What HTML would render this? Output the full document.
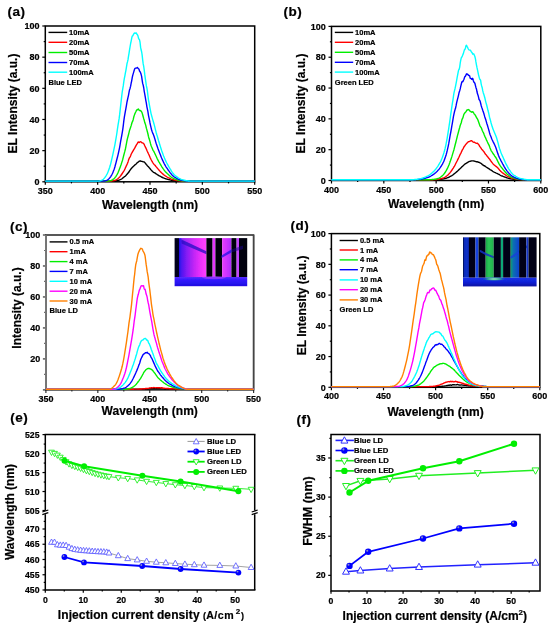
<!DOCTYPE html>
<html><head><meta charset="utf-8"><style>html,body{margin:0;padding:0;background:#fff;width:550px;height:625px;overflow:hidden}svg{display:block;will-change:transform}text{font-family:'Liberation Sans',sans-serif;font-weight:bold;stroke:#000;stroke-width:0.2px}</style></head>
<body>
<svg width="550" height="625" viewBox="0 0 550 625">
<rect width="550" height="625" fill="#fff"/>
<text x="7.60" y="15.70" font-size="13.5" text-anchor="start" fill="#000"  letter-spacing="0.5">(a)</text>
<line x1="45.30" y1="181.80" x2="45.30" y2="184.80" stroke="#000" stroke-width="1.2" />
<text x="45.30" y="193.80" font-size="9" text-anchor="middle" fill="#000"  >350</text>
<line x1="97.65" y1="181.80" x2="97.65" y2="184.80" stroke="#000" stroke-width="1.2" />
<text x="97.65" y="193.80" font-size="9" text-anchor="middle" fill="#000"  >400</text>
<line x1="150.00" y1="181.80" x2="150.00" y2="184.80" stroke="#000" stroke-width="1.2" />
<text x="150.00" y="193.80" font-size="9" text-anchor="middle" fill="#000"  >450</text>
<line x1="202.35" y1="181.80" x2="202.35" y2="184.80" stroke="#000" stroke-width="1.2" />
<text x="202.35" y="193.80" font-size="9" text-anchor="middle" fill="#000"  >500</text>
<line x1="254.70" y1="181.80" x2="254.70" y2="184.80" stroke="#000" stroke-width="1.2" />
<text x="254.70" y="193.80" font-size="9" text-anchor="middle" fill="#000"  >550</text>
<line x1="71.47" y1="181.80" x2="71.47" y2="183.40" stroke="#000" stroke-width="1.2" />
<line x1="123.82" y1="181.80" x2="123.82" y2="183.40" stroke="#000" stroke-width="1.2" />
<line x1="176.18" y1="181.80" x2="176.18" y2="183.40" stroke="#000" stroke-width="1.2" />
<line x1="228.52" y1="181.80" x2="228.52" y2="183.40" stroke="#000" stroke-width="1.2" />
<line x1="42.30" y1="181.80" x2="45.30" y2="181.80" stroke="#000" stroke-width="1.2" />
<text x="39.60" y="185.00" font-size="9" text-anchor="end" fill="#000"  >0</text>
<line x1="42.30" y1="150.64" x2="45.30" y2="150.64" stroke="#000" stroke-width="1.2" />
<text x="39.60" y="153.84" font-size="9" text-anchor="end" fill="#000"  >20</text>
<line x1="42.30" y1="119.48" x2="45.30" y2="119.48" stroke="#000" stroke-width="1.2" />
<text x="39.60" y="122.68" font-size="9" text-anchor="end" fill="#000"  >40</text>
<line x1="42.30" y1="88.32" x2="45.30" y2="88.32" stroke="#000" stroke-width="1.2" />
<text x="39.60" y="91.52" font-size="9" text-anchor="end" fill="#000"  >60</text>
<line x1="42.30" y1="57.16" x2="45.30" y2="57.16" stroke="#000" stroke-width="1.2" />
<text x="39.60" y="60.36" font-size="9" text-anchor="end" fill="#000"  >80</text>
<line x1="42.30" y1="26.00" x2="45.30" y2="26.00" stroke="#000" stroke-width="1.2" />
<text x="39.60" y="29.20" font-size="9" text-anchor="end" fill="#000"  >100</text>
<line x1="43.70" y1="166.22" x2="45.30" y2="166.22" stroke="#000" stroke-width="1.2" />
<line x1="43.70" y1="135.06" x2="45.30" y2="135.06" stroke="#000" stroke-width="1.2" />
<line x1="43.70" y1="103.90" x2="45.30" y2="103.90" stroke="#000" stroke-width="1.2" />
<line x1="43.70" y1="72.74" x2="45.30" y2="72.74" stroke="#000" stroke-width="1.2" />
<line x1="43.70" y1="41.58" x2="45.30" y2="41.58" stroke="#000" stroke-width="1.2" />
<text x="150.00" y="208.60" font-size="12" text-anchor="middle" fill="#000"  >Wavelength (nm)</text>
<text x="17.30" y="103.50" font-size="12" text-anchor="middle" fill="#000"  transform="rotate(-90 17.30 103.50)" >EL Intensity (a.u.)</text>
<rect x="45.30" y="26.00" width="209.40" height="155.80" fill="none" stroke="#000" stroke-width="1.5"/>
<polyline points="45.30,181.10 111.78,181.10 112.31,181.10 112.83,181.09 113.35,181.07 113.88,181.04 114.40,181.01 114.93,180.97 115.45,180.93 115.97,180.86 116.50,180.77 117.02,180.66 117.54,180.54 118.07,180.41 118.59,180.26 119.11,180.09 119.64,179.88 120.16,179.65 120.68,179.41 121.21,179.14 121.73,178.82 122.25,178.45 122.78,178.05 123.30,177.65 123.82,177.24 124.35,176.82 124.87,176.39 125.40,175.93 125.92,175.44 126.44,174.85 126.97,174.26 127.49,173.67 128.01,173.09 128.54,172.49 129.06,171.75 129.58,170.88 130.11,170.09 130.63,169.38 131.15,168.71 131.68,168.07 132.20,167.62 132.72,167.12 133.25,166.53 133.77,166.07 134.29,165.51 134.82,165.01 135.34,164.58 135.87,164.19 136.39,163.59 136.91,163.01 137.44,162.66 137.96,162.15 138.48,161.80 139.01,161.39 139.53,161.09 140.05,160.97 140.58,160.99 141.10,161.25 141.62,161.33 142.15,161.36 142.67,161.54 143.19,161.71 143.72,161.85 144.24,161.99 144.76,162.44 145.29,163.19 145.81,163.82 146.34,164.52 146.86,165.09 147.38,165.70 147.91,166.27 148.43,166.78 148.95,167.40 149.48,168.03 150.00,168.58 150.52,169.20 151.05,169.86 151.57,170.46 152.09,171.04 152.62,171.51 153.14,171.96 153.66,172.33 154.19,172.59 154.71,172.86 155.23,173.18 155.76,173.57 156.28,173.93 156.81,174.29 157.33,174.65 157.85,174.96 158.38,175.28 158.90,175.58 159.42,175.88 159.95,176.17 160.47,176.46 160.99,176.74 161.52,177.00 162.04,177.26 162.56,177.50 163.09,177.75 163.61,177.98 164.13,178.17 164.66,178.38 165.18,178.56 165.70,178.74 166.23,178.91 166.75,179.07 167.28,179.22 167.80,179.37 168.32,179.52 168.85,179.66 169.37,179.80 169.89,179.93 170.42,180.06 170.94,180.16 171.46,180.26 171.99,180.34 172.51,180.41 173.03,180.48 173.56,180.54 174.08,180.61 174.60,180.66 175.13,180.72 175.65,180.77 176.18,180.81 176.70,180.85 177.22,180.89 177.75,180.92 178.27,180.95 178.79,180.97 179.32,180.99 179.84,181.01 180.36,181.03 180.89,181.05 181.41,181.06 181.93,181.07 182.46,181.09 182.98,181.09 183.50,181.10 184.03,181.10 254.70,181.10" fill="none" stroke="#000000" stroke-width="1.4" stroke-linejoin="round" />
<polyline points="45.30,181.10 109.69,181.10 110.21,181.09 110.74,181.07 111.26,181.03 111.78,180.98 112.31,180.92 112.83,180.86 113.35,180.78 113.88,180.66 114.40,180.50 114.93,180.30 115.45,180.07 115.97,179.83 116.50,179.57 117.02,179.27 117.54,178.92 118.07,178.51 118.59,178.07 119.11,177.59 119.64,177.05 120.16,176.42 120.68,175.73 121.21,174.98 121.73,174.24 122.25,173.48 122.78,172.68 123.30,171.87 123.82,171.02 124.35,170.08 124.87,169.08 125.40,167.91 125.92,166.70 126.44,165.65 126.97,164.52 127.49,163.35 128.01,161.92 128.54,160.10 129.06,158.65 129.58,157.69 130.11,156.87 130.63,155.70 131.15,154.29 131.68,153.23 132.20,152.39 132.72,151.35 133.25,150.51 133.77,149.73 134.29,148.77 134.82,147.91 135.34,146.95 135.87,145.94 136.39,144.98 136.91,144.14 137.44,143.27 137.96,142.18 138.48,142.05 139.01,142.53 139.53,142.30 140.05,141.87 140.58,141.80 141.10,141.88 141.62,142.38 142.15,142.90 142.67,142.87 143.19,143.26 143.72,143.74 144.24,144.38 144.76,145.76 145.29,146.83 145.81,147.92 146.34,148.99 146.86,150.30 147.38,151.51 147.91,152.58 148.43,153.73 148.95,154.77 149.48,155.96 150.00,157.24 150.52,158.40 151.05,159.50 151.57,160.47 152.09,161.47 152.62,162.36 153.14,163.13 153.66,163.86 154.19,164.48 154.71,164.98 155.23,165.49 155.76,166.22 156.28,166.89 156.81,167.48 157.33,168.18 157.85,168.83 158.38,169.37 158.90,169.93 159.42,170.56 159.95,171.13 160.47,171.64 160.99,172.17 161.52,172.72 162.04,173.21 162.56,173.68 163.09,174.16 163.61,174.59 164.13,174.99 164.66,175.37 165.18,175.75 165.70,176.10 166.23,176.42 166.75,176.74 167.28,177.05 167.80,177.33 168.32,177.62 168.85,177.90 169.37,178.17 169.89,178.44 170.42,178.69 170.94,178.93 171.46,179.14 171.99,179.34 172.51,179.50 173.03,179.64 173.56,179.78 174.08,179.90 174.60,180.03 175.13,180.14 175.65,180.25 176.18,180.35 176.70,180.44 177.22,180.53 177.75,180.61 178.27,180.67 178.79,180.73 179.32,180.78 179.84,180.83 180.36,180.87 180.89,180.90 181.41,180.94 181.93,180.98 182.46,181.01 182.98,181.03 183.50,181.06 184.03,181.08 184.55,181.09 185.07,181.10 185.60,181.10 254.70,181.10" fill="none" stroke="#ff0000" stroke-width="1.4" stroke-linejoin="round" />
<polyline points="45.30,181.10 107.07,181.10 107.60,181.10 108.12,181.08 108.64,181.03 109.17,180.96 109.69,180.86 110.21,180.75 110.74,180.63 111.26,180.47 111.78,180.24 112.31,179.93 112.83,179.57 113.35,179.16 113.88,178.71 114.40,178.24 114.93,177.68 115.45,177.03 115.97,176.29 116.50,175.47 117.02,174.61 117.54,173.63 118.07,172.47 118.59,171.22 119.11,169.90 119.64,168.54 120.16,167.14 120.68,165.73 121.21,164.23 121.73,162.63 122.25,161.02 122.78,159.19 123.30,157.09 123.82,154.99 124.35,153.07 124.87,151.16 125.40,149.00 125.92,146.46 126.44,143.58 126.97,140.74 127.49,138.37 128.01,136.45 128.54,134.50 129.06,132.41 129.58,130.16 130.11,128.65 130.63,127.18 131.15,125.63 131.68,123.82 132.20,122.06 132.72,121.18 133.25,119.42 133.77,117.06 134.29,115.39 134.82,113.90 135.34,112.77 135.87,111.79 136.39,110.51 136.91,109.82 137.44,109.88 137.96,109.09 138.48,109.06 139.01,110.10 139.53,110.59 140.05,110.61 140.58,110.56 141.10,111.19 141.62,111.84 142.15,113.09 142.67,114.74 143.19,116.72 143.72,118.69 144.24,120.32 144.76,122.58 145.29,123.89 145.81,125.62 146.34,128.14 146.86,129.83 147.38,131.71 147.91,133.76 148.43,136.24 148.95,138.30 149.48,139.75 150.00,141.65 150.52,143.65 151.05,145.44 151.57,146.78 152.09,147.94 152.62,149.33 153.14,150.37 153.66,151.19 154.19,152.19 154.71,153.27 155.23,154.32 155.76,155.46 156.28,156.57 156.81,157.73 157.33,158.86 157.85,159.84 158.38,160.82 158.90,161.84 159.42,162.69 159.95,163.56 160.47,164.49 160.99,165.34 161.52,166.25 162.04,167.11 162.56,167.89 163.09,168.69 163.61,169.42 164.13,170.11 164.66,170.79 165.18,171.41 165.70,171.98 166.23,172.54 166.75,173.07 167.28,173.61 167.80,174.10 168.32,174.57 168.85,175.03 169.37,175.51 169.89,175.97 170.42,176.42 170.94,176.84 171.46,177.23 171.99,177.59 172.51,177.92 173.03,178.20 173.56,178.44 174.08,178.67 174.60,178.88 175.13,179.09 175.65,179.28 176.18,179.47 176.70,179.65 177.22,179.82 177.75,179.97 178.27,180.11 178.79,180.24 179.32,180.35 179.84,180.45 180.36,180.53 180.89,180.60 181.41,180.67 181.93,180.74 182.46,180.80 182.98,180.86 183.50,180.91 184.03,180.96 184.55,181.00 185.07,181.04 185.60,181.07 186.12,181.09 186.64,181.10 187.17,181.10 254.70,181.10" fill="none" stroke="#00ee00" stroke-width="1.4" stroke-linejoin="round" />
<polyline points="45.30,181.10 102.88,181.10 103.41,181.10 103.93,181.07 104.46,181.00 104.98,180.89 105.50,180.76 106.03,180.60 106.55,180.43 107.07,180.23 107.60,179.94 108.12,179.55 108.64,179.06 109.17,178.51 109.69,177.90 110.21,177.24 110.74,176.56 111.26,175.74 111.78,174.80 112.31,173.76 112.83,172.61 113.35,171.35 113.88,169.98 114.40,168.45 114.93,166.70 115.45,164.80 115.97,162.84 116.50,160.79 117.02,158.76 117.54,156.72 118.07,154.60 118.59,152.26 119.11,149.91 119.64,147.29 120.16,144.26 120.68,141.18 121.21,138.26 121.73,135.53 122.25,132.55 122.78,129.37 123.30,125.42 123.82,120.83 124.35,117.04 124.87,114.03 125.40,111.05 125.92,108.36 126.44,105.29 126.97,102.19 127.49,99.74 128.01,97.39 128.54,95.05 129.06,92.18 129.58,89.64 130.11,88.20 130.63,86.15 131.15,83.25 131.68,80.84 132.20,77.77 132.72,75.36 133.25,73.58 133.77,71.85 134.29,70.05 134.82,68.62 135.34,68.15 135.87,68.10 136.39,68.05 136.91,67.79 137.44,67.44 137.96,68.16 138.48,68.66 139.01,69.27 139.53,71.08 140.05,71.68 140.58,72.71 141.10,74.29 141.62,76.46 142.15,80.13 142.67,83.38 143.19,85.12 143.72,87.76 144.24,91.30 144.76,94.04 145.29,97.12 145.81,100.31 146.34,103.09 146.86,106.53 147.38,109.13 147.91,111.67 148.43,115.05 148.95,117.59 149.48,120.15 150.00,122.99 150.52,125.35 151.05,127.58 151.57,129.71 152.09,131.41 152.62,132.82 153.14,133.89 153.66,135.19 154.19,136.80 154.71,138.42 155.23,140.22 155.76,142.12 156.28,143.82 156.81,145.19 157.33,146.68 157.85,148.25 158.38,149.68 158.90,151.08 159.42,152.41 159.95,153.76 160.47,155.11 160.99,156.46 161.52,157.78 162.04,158.99 162.56,160.15 163.09,161.29 163.61,162.41 164.13,163.47 164.66,164.43 165.18,165.33 165.70,166.28 166.23,167.13 166.75,167.92 167.28,168.70 167.80,169.49 168.32,170.26 168.85,170.94 169.37,171.65 169.89,172.36 170.42,173.03 170.94,173.68 171.46,174.31 171.99,174.89 172.51,175.42 173.03,175.91 173.56,176.35 174.08,176.73 174.60,177.07 175.13,177.39 175.65,177.71 176.18,178.02 176.70,178.31 177.22,178.59 177.75,178.84 178.27,179.09 178.79,179.31 179.32,179.52 179.84,179.71 180.36,179.88 180.89,180.03 181.41,180.16 181.93,180.27 182.46,180.37 182.98,180.47 183.50,180.57 184.03,180.66 184.55,180.74 185.07,180.82 185.60,180.89 186.12,180.96 186.64,181.01 187.17,181.05 187.69,181.08 188.22,181.10 188.74,181.10 254.70,181.10" fill="none" stroke="#0000ff" stroke-width="1.4" stroke-linejoin="round" />
<polyline points="45.30,181.10 98.17,181.10 98.70,181.08 99.22,181.01 99.74,180.90 100.27,180.76 100.79,180.59 101.31,180.40 101.84,180.19 102.36,179.96 102.88,179.62 103.41,179.18 103.93,178.63 104.46,178.01 104.98,177.31 105.50,176.55 106.03,175.77 106.55,174.94 107.07,173.96 107.60,172.85 108.12,171.61 108.64,170.26 109.17,168.80 109.69,167.27 110.21,165.56 110.74,163.60 111.26,161.48 111.78,159.19 112.31,156.84 112.83,154.57 113.35,152.19 113.88,149.69 114.40,147.19 114.93,144.54 115.45,141.57 115.97,138.59 116.50,135.50 117.02,132.10 117.54,128.46 118.07,124.95 118.59,121.88 119.11,118.63 119.64,114.70 120.16,109.96 120.68,105.22 121.21,100.67 121.73,96.08 122.25,91.78 122.78,88.68 123.30,85.65 123.82,81.65 124.35,78.48 124.87,75.85 125.40,72.87 125.92,70.30 126.44,67.24 126.97,63.81 127.49,61.93 128.01,59.65 128.54,56.03 129.06,53.07 129.58,49.61 130.11,46.50 130.63,43.50 131.15,41.08 131.68,38.39 132.20,36.07 132.72,35.83 133.25,34.91 133.77,33.99 134.29,33.16 134.82,33.03 135.34,33.26 135.87,32.98 136.39,32.90 136.91,34.15 137.44,34.66 137.96,35.85 138.48,38.10 139.01,39.33 139.53,39.84 140.05,42.23 140.58,47.17 141.10,49.78 141.62,51.75 142.15,55.12 142.67,59.91 143.19,63.88 143.72,66.48 144.24,70.08 144.76,74.63 145.29,78.34 145.81,81.88 146.34,85.66 146.86,87.98 147.38,90.96 147.91,95.50 148.43,99.54 148.95,102.40 149.48,105.27 150.00,108.18 150.52,110.95 151.05,113.57 151.57,115.49 152.09,117.39 152.62,119.36 153.14,121.04 153.66,122.73 154.19,124.64 154.71,126.69 155.23,128.84 155.76,130.89 156.28,133.00 156.81,134.80 157.33,136.36 157.85,138.26 158.38,140.18 158.90,141.82 159.42,143.46 159.95,145.19 160.47,146.87 160.99,148.54 161.52,150.19 162.04,151.67 162.56,153.08 163.09,154.62 163.61,156.05 164.13,157.29 164.66,158.52 165.18,159.73 165.70,160.87 166.23,161.99 166.75,163.03 167.28,164.00 167.80,164.92 168.32,165.84 168.85,166.78 169.37,167.67 169.89,168.50 170.42,169.34 170.94,170.21 171.46,171.05 171.99,171.85 172.51,172.59 173.03,173.28 173.56,173.93 174.08,174.51 174.60,175.03 175.13,175.48 175.65,175.88 176.18,176.29 176.70,176.67 177.22,177.05 177.75,177.41 178.27,177.75 178.79,178.07 179.32,178.38 179.84,178.66 180.36,178.93 180.89,179.17 181.41,179.39 181.93,179.59 182.46,179.77 182.98,179.92 183.50,180.05 184.03,180.17 184.55,180.29 185.07,180.41 185.60,180.52 186.12,180.63 186.64,180.73 187.17,180.81 187.69,180.89 188.22,180.96 188.74,181.02 189.26,181.06 189.79,181.09 190.31,181.10 190.83,181.10 254.70,181.10" fill="none" stroke="#00ffff" stroke-width="1.4" stroke-linejoin="round" />
<line x1="48.50" y1="32.40" x2="67.20" y2="32.40" stroke="#000" stroke-width="1.4" />
<text x="69.10" y="34.90" font-size="7.5" text-anchor="start" fill="#000"  >10mA</text>
<line x1="48.50" y1="42.30" x2="67.20" y2="42.30" stroke="#f00" stroke-width="1.4" />
<text x="69.10" y="44.80" font-size="7.5" text-anchor="start" fill="#000"  >20mA</text>
<line x1="48.50" y1="52.50" x2="67.20" y2="52.50" stroke="#00ee00" stroke-width="1.4" />
<text x="69.10" y="55.00" font-size="7.5" text-anchor="start" fill="#000"  >50mA</text>
<line x1="48.50" y1="62.50" x2="67.20" y2="62.50" stroke="#00f" stroke-width="1.4" />
<text x="69.10" y="65.00" font-size="7.5" text-anchor="start" fill="#000"  >70mA</text>
<line x1="48.50" y1="72.20" x2="67.20" y2="72.20" stroke="#0ff" stroke-width="1.4" />
<text x="69.10" y="74.70" font-size="7.5" text-anchor="start" fill="#000"  >100mA</text>
<text x="48.50" y="84.50" font-size="7.5" text-anchor="start" fill="#000"  >Blue LED</text>
<text x="283.40" y="15.80" font-size="13.5" text-anchor="start" fill="#000"  letter-spacing="0.5">(b)</text>
<line x1="331.50" y1="180.50" x2="331.50" y2="183.50" stroke="#000" stroke-width="1.2" />
<text x="331.50" y="192.50" font-size="9" text-anchor="middle" fill="#000"  >400</text>
<line x1="383.82" y1="180.50" x2="383.82" y2="183.50" stroke="#000" stroke-width="1.2" />
<text x="383.82" y="192.50" font-size="9" text-anchor="middle" fill="#000"  >450</text>
<line x1="436.15" y1="180.50" x2="436.15" y2="183.50" stroke="#000" stroke-width="1.2" />
<text x="436.15" y="192.50" font-size="9" text-anchor="middle" fill="#000"  >500</text>
<line x1="488.47" y1="180.50" x2="488.47" y2="183.50" stroke="#000" stroke-width="1.2" />
<text x="488.47" y="192.50" font-size="9" text-anchor="middle" fill="#000"  >550</text>
<line x1="540.80" y1="180.50" x2="540.80" y2="183.50" stroke="#000" stroke-width="1.2" />
<text x="540.80" y="192.50" font-size="9" text-anchor="middle" fill="#000"  >600</text>
<line x1="357.66" y1="180.50" x2="357.66" y2="182.10" stroke="#000" stroke-width="1.2" />
<line x1="409.99" y1="180.50" x2="409.99" y2="182.10" stroke="#000" stroke-width="1.2" />
<line x1="462.31" y1="180.50" x2="462.31" y2="182.10" stroke="#000" stroke-width="1.2" />
<line x1="514.64" y1="180.50" x2="514.64" y2="182.10" stroke="#000" stroke-width="1.2" />
<line x1="328.50" y1="180.50" x2="331.50" y2="180.50" stroke="#000" stroke-width="1.2" />
<text x="325.80" y="183.70" font-size="9" text-anchor="end" fill="#000"  >0</text>
<line x1="328.50" y1="149.68" x2="331.50" y2="149.68" stroke="#000" stroke-width="1.2" />
<text x="325.80" y="152.88" font-size="9" text-anchor="end" fill="#000"  >20</text>
<line x1="328.50" y1="118.86" x2="331.50" y2="118.86" stroke="#000" stroke-width="1.2" />
<text x="325.80" y="122.06" font-size="9" text-anchor="end" fill="#000"  >40</text>
<line x1="328.50" y1="88.04" x2="331.50" y2="88.04" stroke="#000" stroke-width="1.2" />
<text x="325.80" y="91.24" font-size="9" text-anchor="end" fill="#000"  >60</text>
<line x1="328.50" y1="57.22" x2="331.50" y2="57.22" stroke="#000" stroke-width="1.2" />
<text x="325.80" y="60.42" font-size="9" text-anchor="end" fill="#000"  >80</text>
<line x1="328.50" y1="26.40" x2="331.50" y2="26.40" stroke="#000" stroke-width="1.2" />
<text x="325.80" y="29.60" font-size="9" text-anchor="end" fill="#000"  >100</text>
<line x1="329.90" y1="165.09" x2="331.50" y2="165.09" stroke="#000" stroke-width="1.2" />
<line x1="329.90" y1="134.27" x2="331.50" y2="134.27" stroke="#000" stroke-width="1.2" />
<line x1="329.90" y1="103.45" x2="331.50" y2="103.45" stroke="#000" stroke-width="1.2" />
<line x1="329.90" y1="72.63" x2="331.50" y2="72.63" stroke="#000" stroke-width="1.2" />
<line x1="329.90" y1="41.81" x2="331.50" y2="41.81" stroke="#000" stroke-width="1.2" />
<text x="436.20" y="207.50" font-size="12" text-anchor="middle" fill="#000"  >Wavelength (nm)</text>
<text x="304.50" y="103.50" font-size="12" text-anchor="middle" fill="#000"  transform="rotate(-90 304.50 103.50)" >EL Intensity (a.u.)</text>
<rect x="331.50" y="26.40" width="209.30" height="154.10" fill="none" stroke="#000" stroke-width="1.5"/>
<polyline points="331.50,179.80 427.25,179.80 427.78,179.80 428.30,179.80 428.82,179.79 429.35,179.79 429.87,179.78 430.39,179.78 430.92,179.77 431.44,179.76 431.96,179.76 432.49,179.75 433.01,179.74 433.53,179.73 434.06,179.71 434.58,179.70 435.10,179.69 435.63,179.67 436.15,179.65 436.67,179.63 437.20,179.60 437.72,179.57 438.24,179.54 438.77,179.50 439.29,179.45 439.81,179.41 440.34,179.36 440.86,179.30 441.38,179.24 441.91,179.16 442.43,179.08 442.95,178.98 443.48,178.88 444.00,178.77 444.52,178.66 445.05,178.53 445.57,178.39 446.09,178.23 446.62,178.06 447.14,177.87 447.66,177.68 448.18,177.48 448.71,177.26 449.23,177.03 449.75,176.74 450.28,176.46 450.80,176.18 451.32,175.89 451.85,175.57 452.37,175.22 452.89,174.86 453.42,174.47 453.94,174.06 454.46,173.65 454.99,173.22 455.51,172.80 456.03,172.35 456.56,171.87 457.08,171.39 457.60,170.92 458.13,170.47 458.65,169.93 459.17,169.39 459.70,168.92 460.22,168.46 460.74,167.96 461.27,167.41 461.79,166.87 462.31,166.42 462.84,165.98 463.36,165.46 463.88,165.04 464.41,164.57 464.93,164.09 465.45,163.73 465.98,163.49 466.50,163.22 467.02,162.81 467.54,162.44 468.07,162.14 468.59,161.81 469.11,161.50 469.64,161.39 470.16,161.41 470.68,161.17 471.21,160.93 471.73,160.90 472.25,160.87 472.78,160.90 473.30,160.92 473.82,161.02 474.35,161.13 474.87,161.28 475.39,161.33 475.92,161.57 476.44,161.85 476.96,161.74 477.49,161.81 478.01,162.02 478.53,162.25 479.06,162.29 479.58,162.54 480.10,162.91 480.63,163.16 481.15,163.52 481.67,163.87 482.20,164.39 482.72,164.90 483.24,165.20 483.77,165.54 484.29,165.76 484.81,166.00 485.34,166.37 485.86,166.76 486.38,167.13 486.91,167.47 487.43,167.82 487.95,168.17 488.47,168.46 489.00,168.78 489.52,169.23 490.04,169.52 490.57,169.80 491.09,170.19 491.61,170.47 492.14,170.81 492.66,171.28 493.18,171.65 493.71,171.93 494.23,172.19 494.75,172.42 495.28,172.63 495.80,172.88 496.32,173.11 496.85,173.30 497.37,173.53 497.89,173.78 498.42,174.02 498.94,174.30 499.46,174.65 499.99,174.99 500.51,175.29 501.03,175.55 501.56,175.80 502.08,176.01 502.60,176.23 503.13,176.45 503.65,176.64 504.17,176.84 504.70,177.03 505.22,177.21 505.74,177.40 506.27,177.59 506.79,177.75 507.31,177.92 507.84,178.07 508.36,178.22 508.88,178.35 509.40,178.48 509.93,178.60 510.45,178.72 510.97,178.83 511.50,178.93 512.02,179.02 512.54,179.10 513.07,179.16 513.59,179.22 514.11,179.27 514.64,179.33 515.16,179.38 515.68,179.42 516.21,179.46 516.73,179.50 517.25,179.54 517.78,179.57 518.30,179.60 518.82,179.63 519.35,179.65 519.87,179.67 520.39,179.69 520.92,179.70 521.44,179.72 521.96,179.73 522.49,179.75 523.01,179.76 523.53,179.77 524.06,179.78 524.58,179.79 525.10,179.80 525.63,179.80 526.15,179.80 540.80,179.80" fill="none" stroke="#000000" stroke-width="1.4" stroke-linejoin="round" />
<polyline points="331.50,179.80 427.78,179.80 428.30,179.80 428.82,179.79 429.35,179.78 429.87,179.78 430.39,179.76 430.92,179.75 431.44,179.74 431.96,179.72 432.49,179.71 433.01,179.69 433.53,179.66 434.06,179.64 434.58,179.61 435.10,179.58 435.63,179.54 436.15,179.51 436.67,179.46 437.20,179.41 437.72,179.34 438.24,179.27 438.77,179.19 439.29,179.09 439.81,178.99 440.34,178.88 440.86,178.76 441.38,178.62 441.91,178.45 442.43,178.26 442.95,178.06 443.48,177.84 444.00,177.60 444.52,177.34 445.05,177.06 445.57,176.72 446.09,176.36 446.62,175.99 447.14,175.58 447.66,175.14 448.18,174.67 448.71,174.15 449.23,173.58 449.75,172.99 450.28,172.36 450.80,171.70 451.32,170.97 451.85,170.28 452.37,169.47 452.89,168.62 453.42,167.81 453.94,166.95 454.46,166.07 454.99,165.10 455.51,164.06 456.03,162.96 456.56,161.96 457.08,160.95 457.60,159.86 458.13,158.82 458.65,157.80 459.17,156.69 459.70,155.50 460.22,154.33 460.74,153.43 461.27,152.35 461.79,151.12 462.31,149.98 462.84,149.10 463.36,148.27 463.88,147.04 464.41,146.24 464.93,145.72 465.45,144.86 465.98,144.19 466.50,143.59 467.02,142.98 467.54,142.58 468.07,141.98 468.59,141.63 469.11,141.64 469.64,141.39 470.16,141.06 470.68,140.84 471.21,140.62 471.73,140.64 472.25,141.23 472.78,141.78 473.30,142.11 473.82,142.28 474.35,142.16 474.87,142.50 475.39,142.90 475.92,143.14 476.44,143.42 476.96,143.42 477.49,143.22 478.01,143.85 478.53,144.48 479.06,145.07 479.58,146.22 480.10,146.91 480.63,147.51 481.15,148.37 481.67,149.20 482.20,149.68 482.72,150.26 483.24,150.95 483.77,151.47 484.29,152.29 484.81,153.23 485.34,154.02 485.86,154.60 486.38,155.12 486.91,155.89 487.43,156.62 487.95,157.04 488.47,157.78 489.00,158.52 489.52,159.07 490.04,159.75 490.57,160.55 491.09,161.27 491.61,162.00 492.14,162.69 492.66,163.34 493.18,163.95 493.71,164.46 494.23,164.93 494.75,165.40 495.28,165.82 495.80,166.17 496.32,166.60 496.85,167.02 497.37,167.49 497.89,168.04 498.42,168.63 498.94,169.26 499.46,169.94 499.99,170.60 500.51,171.11 501.03,171.58 501.56,172.02 502.08,172.45 502.60,172.85 503.13,173.26 503.65,173.65 504.17,174.02 504.70,174.42 505.22,174.78 505.74,175.13 506.27,175.50 506.79,175.83 507.31,176.14 507.84,176.44 508.36,176.71 508.88,176.96 509.40,177.21 509.93,177.45 510.45,177.69 510.97,177.90 511.50,178.09 512.02,178.25 512.54,178.39 513.07,178.51 513.59,178.63 514.11,178.74 514.64,178.84 515.16,178.94 515.68,179.03 516.21,179.12 516.73,179.19 517.25,179.27 517.78,179.33 518.30,179.39 518.82,179.44 519.35,179.49 519.87,179.52 520.39,179.56 520.92,179.59 521.44,179.62 521.96,179.65 522.49,179.68 523.01,179.71 523.53,179.73 524.06,179.75 524.58,179.77 525.10,179.78 525.63,179.79 526.15,179.80 526.67,179.80 540.80,179.80" fill="none" stroke="#ff0000" stroke-width="1.4" stroke-linejoin="round" />
<polyline points="331.50,179.80 426.21,179.80 426.73,179.80 427.25,179.79 427.78,179.78 428.30,179.76 428.82,179.74 429.35,179.72 429.87,179.69 430.39,179.67 430.92,179.64 431.44,179.60 431.96,179.56 432.49,179.52 433.01,179.47 433.53,179.41 434.06,179.34 434.58,179.27 435.10,179.19 435.63,179.09 436.15,178.97 436.67,178.83 437.20,178.67 437.72,178.50 438.24,178.31 438.77,178.09 439.29,177.86 439.81,177.59 440.34,177.27 440.86,176.90 441.38,176.51 441.91,176.09 442.43,175.64 442.95,175.14 443.48,174.57 444.00,173.94 444.52,173.24 445.05,172.49 445.57,171.73 446.09,170.90 446.62,169.95 447.14,168.93 447.66,167.89 448.18,166.69 448.71,165.42 449.23,164.19 449.75,162.84 450.28,161.35 450.80,159.75 451.32,158.24 451.85,156.64 452.37,154.92 452.89,153.14 453.42,151.36 453.94,149.67 454.46,147.65 454.99,145.52 455.51,143.47 456.03,141.51 456.56,139.39 457.08,137.25 457.60,135.18 458.13,133.20 458.65,131.20 459.17,129.20 459.70,127.50 460.22,125.42 460.74,124.03 461.27,122.77 461.79,120.32 462.31,118.83 462.84,117.95 463.36,116.16 463.88,114.40 464.41,113.49 464.93,112.83 465.45,112.23 465.98,111.82 466.50,110.70 467.02,110.03 467.54,109.97 468.07,109.70 468.59,109.56 469.11,110.06 469.64,110.62 470.16,111.36 470.68,111.48 471.21,111.94 471.73,112.25 472.25,111.73 472.78,111.94 473.30,112.21 473.82,113.23 474.35,114.16 474.87,114.54 475.39,115.33 475.92,116.34 476.44,117.56 476.96,118.20 477.49,119.04 478.01,120.35 478.53,121.76 479.06,123.28 479.58,124.88 480.10,126.12 480.63,126.81 481.15,127.55 481.67,128.80 482.20,130.25 482.72,131.48 483.24,132.39 483.77,133.48 484.29,134.98 484.81,136.33 485.34,137.35 485.86,138.60 486.38,139.81 486.91,140.82 487.43,142.03 487.95,143.12 488.47,144.21 489.00,145.13 489.52,146.39 490.04,147.90 490.57,149.25 491.09,150.56 491.61,151.36 492.14,151.98 492.66,152.94 493.18,153.84 493.71,154.43 494.23,155.15 494.75,156.08 495.28,156.79 495.80,157.47 496.32,158.36 496.85,159.38 497.37,160.47 497.89,161.53 498.42,162.69 498.94,163.69 499.46,164.54 499.99,165.37 500.51,166.13 501.03,166.85 501.56,167.54 502.08,168.17 502.60,168.83 503.13,169.52 503.65,170.14 504.17,170.76 504.70,171.40 505.22,172.01 505.74,172.60 506.27,173.15 506.79,173.67 507.31,174.14 507.84,174.58 508.36,175.02 508.88,175.44 509.40,175.85 509.93,176.22 510.45,176.57 510.97,176.87 511.50,177.14 512.02,177.36 512.54,177.56 513.07,177.75 513.59,177.94 514.11,178.11 514.64,178.28 515.16,178.44 515.68,178.59 516.21,178.72 516.73,178.84 517.25,178.96 517.78,179.06 518.30,179.15 518.82,179.22 519.35,179.29 519.87,179.35 520.39,179.41 520.92,179.46 521.44,179.52 521.96,179.57 522.49,179.61 523.01,179.66 523.53,179.70 524.06,179.73 524.58,179.76 525.10,179.78 525.63,179.79 526.15,179.80 526.67,179.80 540.80,179.80" fill="none" stroke="#00ee00" stroke-width="1.4" stroke-linejoin="round" />
<polyline points="331.50,179.80 412.60,179.80 413.13,179.80 413.65,179.79 414.17,179.78 414.70,179.76 415.22,179.74 415.74,179.71 416.27,179.67 416.79,179.63 417.31,179.58 417.84,179.53 418.36,179.48 418.88,179.43 419.41,179.37 419.93,179.32 420.45,179.26 420.98,179.18 421.50,179.10 422.02,179.00 422.55,178.90 423.07,178.78 423.59,178.66 424.12,178.53 424.64,178.39 425.16,178.24 425.69,178.09 426.21,177.93 426.73,177.76 427.25,177.58 427.78,177.41 428.30,177.22 428.82,177.02 429.35,176.79 429.87,176.54 430.39,176.28 430.92,176.00 431.44,175.69 431.96,175.37 432.49,175.05 433.01,174.71 433.53,174.34 434.06,173.96 434.58,173.58 435.10,173.16 435.63,172.72 436.15,172.23 436.67,171.77 437.20,171.25 437.72,170.65 438.24,170.08 438.77,169.47 439.29,168.82 439.81,168.13 440.34,167.38 440.86,166.59 441.38,165.78 441.91,164.97 442.43,164.09 442.95,163.04 443.48,161.98 444.00,160.86 444.52,159.46 445.05,157.94 445.57,156.51 446.09,154.93 446.62,153.04 447.14,150.95 447.66,148.62 448.18,146.29 448.71,143.70 449.23,140.77 449.75,137.71 450.28,134.70 450.80,132.00 451.32,129.06 451.85,125.85 452.37,123.09 452.89,119.99 453.42,116.68 453.94,114.13 454.46,111.80 454.99,109.90 455.51,108.34 456.03,105.93 456.56,103.07 457.08,100.95 457.60,98.92 458.13,96.80 458.65,94.62 459.17,92.22 459.70,90.69 460.22,88.90 460.74,86.41 461.27,84.28 461.79,82.20 462.31,81.50 462.84,81.77 463.36,80.55 463.88,79.48 464.41,77.85 464.93,76.53 465.45,76.35 465.98,75.00 466.50,73.84 467.02,73.80 467.54,74.51 468.07,74.54 468.59,75.28 469.11,75.51 469.64,75.84 470.16,78.13 470.68,78.45 471.21,78.69 471.73,79.37 472.25,78.28 472.78,78.54 473.30,80.48 473.82,81.97 474.35,82.58 474.87,83.28 475.39,85.39 475.92,87.41 476.44,88.98 476.96,91.52 477.49,93.80 478.01,95.16 478.53,97.20 479.06,99.48 479.58,100.22 480.10,101.10 480.63,103.25 481.15,105.44 481.67,107.17 482.20,108.63 482.72,110.32 483.24,111.87 483.77,113.25 484.29,115.15 484.81,116.91 485.34,118.51 485.86,120.08 486.38,121.89 486.91,123.70 487.43,125.31 487.95,127.11 488.47,128.84 489.00,130.70 489.52,132.79 490.04,134.49 490.57,135.71 491.09,136.91 491.61,138.48 492.14,139.74 492.66,140.72 493.18,141.83 493.71,142.87 494.23,143.93 494.75,145.06 495.28,146.24 495.80,147.47 496.32,148.97 496.85,150.65 497.37,152.28 497.89,153.87 498.42,155.23 498.94,156.48 499.46,157.69 499.99,158.75 500.51,159.79 501.03,160.81 501.56,161.78 502.08,162.75 502.60,163.73 503.13,164.66 503.65,165.63 504.17,166.56 504.70,167.41 505.22,168.28 505.74,169.14 506.27,169.90 506.79,170.63 507.31,171.32 507.84,171.99 508.36,172.63 508.88,173.22 509.40,173.81 509.93,174.34 510.45,174.85 510.97,175.31 511.50,175.71 512.02,176.04 512.54,176.32 513.07,176.61 513.59,176.89 514.11,177.15 514.64,177.40 515.16,177.63 515.68,177.85 516.21,178.05 516.73,178.24 517.25,178.42 517.78,178.57 518.30,178.72 518.82,178.84 519.35,178.95 519.87,179.04 520.39,179.13 520.92,179.21 521.44,179.29 521.96,179.37 522.49,179.44 523.01,179.51 523.53,179.58 524.06,179.63 524.58,179.68 525.10,179.72 525.63,179.76 526.15,179.78 526.67,179.80 527.20,179.80 540.80,179.80" fill="none" stroke="#0000ff" stroke-width="1.4" stroke-linejoin="round" />
<polyline points="331.50,179.80 410.51,179.80 411.03,179.80 411.56,179.79 412.08,179.77 412.60,179.74 413.13,179.71 413.65,179.67 414.17,179.62 414.70,179.57 415.22,179.52 415.74,179.46 416.27,179.40 416.79,179.33 417.31,179.26 417.84,179.20 418.36,179.12 418.88,179.03 419.41,178.93 419.93,178.82 420.45,178.70 420.98,178.56 421.50,178.42 422.02,178.26 422.55,178.09 423.07,177.92 423.59,177.74 424.12,177.55 424.64,177.35 425.16,177.14 425.69,176.93 426.21,176.72 426.73,176.48 427.25,176.23 427.78,175.95 428.30,175.65 428.82,175.33 429.35,174.98 429.87,174.62 430.39,174.24 430.92,173.83 431.44,173.40 431.96,172.96 432.49,172.51 433.01,172.03 433.53,171.54 434.06,171.04 434.58,170.48 435.10,169.89 435.63,169.27 436.15,168.60 436.67,167.91 437.20,167.18 437.72,166.42 438.24,165.60 438.77,164.72 439.29,163.86 439.81,162.97 440.34,162.01 440.86,160.94 441.38,159.77 441.91,158.52 442.43,157.19 442.95,155.73 443.48,154.15 444.00,152.54 444.52,150.71 445.05,148.71 445.57,146.52 446.09,143.92 446.62,141.18 447.14,138.29 447.66,135.03 448.18,131.82 448.71,128.52 449.23,124.98 449.75,121.57 450.28,117.73 450.80,113.95 451.32,110.48 451.85,106.91 452.37,103.45 452.89,100.31 453.42,96.48 453.94,93.15 454.46,90.87 454.99,88.76 455.51,86.30 456.03,83.54 456.56,80.80 457.08,77.85 457.60,75.20 458.13,72.28 458.65,69.89 459.17,69.27 459.70,67.06 460.22,63.10 460.74,60.09 461.27,57.93 461.79,57.04 462.31,56.12 462.84,54.74 463.36,53.59 463.88,51.64 464.41,49.87 464.93,49.38 465.45,48.00 465.98,45.74 466.50,45.19 467.02,46.34 467.54,47.13 468.07,48.49 468.59,49.38 469.11,49.95 469.64,50.10 470.16,50.12 470.68,50.58 471.21,51.78 471.73,52.29 472.25,52.96 472.78,54.16 473.30,53.80 473.82,54.00 474.35,55.20 474.87,56.47 475.39,58.61 475.92,61.95 476.44,64.76 476.96,67.42 477.49,69.84 478.01,72.34 478.53,74.83 479.06,76.81 479.58,78.93 480.10,79.45 480.63,80.37 481.15,83.79 481.67,85.99 482.20,87.68 482.72,90.64 483.24,92.70 483.77,94.15 484.29,95.98 484.81,97.76 485.34,100.11 485.86,102.37 486.38,104.04 486.91,105.97 487.43,108.11 487.95,110.29 488.47,112.24 489.00,114.60 489.52,117.23 490.04,118.99 490.57,120.92 491.09,123.04 491.61,124.80 492.14,126.58 492.66,128.12 493.18,129.42 493.71,130.73 494.23,132.02 494.75,133.25 495.28,134.45 495.80,135.72 496.32,137.08 496.85,138.77 497.37,140.62 497.89,142.40 498.42,144.37 498.94,146.57 499.46,148.38 499.99,149.82 500.51,151.32 501.03,152.71 501.56,154.03 502.08,155.22 502.60,156.38 503.13,157.59 503.65,158.74 504.17,159.87 504.70,161.08 505.22,162.26 505.74,163.37 506.27,164.41 506.79,165.44 507.31,166.43 507.84,167.37 508.36,168.28 508.88,169.11 509.40,169.90 509.93,170.63 510.45,171.38 510.97,172.12 511.50,172.79 512.02,173.40 512.54,173.96 513.07,174.47 513.59,174.90 514.11,175.27 514.64,175.62 515.16,175.95 515.68,176.27 516.21,176.58 516.73,176.88 517.25,177.16 517.78,177.42 518.30,177.66 518.82,177.88 519.35,178.09 519.87,178.28 520.39,178.45 520.92,178.60 521.44,178.73 521.96,178.84 522.49,178.94 523.01,179.04 523.53,179.14 524.06,179.24 524.58,179.33 525.10,179.41 525.63,179.49 526.15,179.57 526.67,179.63 527.20,179.68 527.72,179.73 528.24,179.76 528.77,179.79 529.29,179.80 529.81,179.80 540.80,179.80" fill="none" stroke="#00ffff" stroke-width="1.4" stroke-linejoin="round" />
<line x1="334.80" y1="32.40" x2="353.20" y2="32.40" stroke="#000" stroke-width="1.4" />
<text x="355.10" y="34.90" font-size="7.5" text-anchor="start" fill="#000"  >10mA</text>
<line x1="334.80" y1="42.30" x2="353.20" y2="42.30" stroke="#f00" stroke-width="1.4" />
<text x="355.10" y="44.80" font-size="7.5" text-anchor="start" fill="#000"  >20mA</text>
<line x1="334.80" y1="52.30" x2="353.20" y2="52.30" stroke="#00ee00" stroke-width="1.4" />
<text x="355.10" y="54.80" font-size="7.5" text-anchor="start" fill="#000"  >50mA</text>
<line x1="334.80" y1="62.30" x2="353.20" y2="62.30" stroke="#00f" stroke-width="1.4" />
<text x="355.10" y="64.80" font-size="7.5" text-anchor="start" fill="#000"  >70mA</text>
<line x1="334.80" y1="72.10" x2="353.20" y2="72.10" stroke="#0ff" stroke-width="1.4" />
<text x="355.10" y="74.60" font-size="7.5" text-anchor="start" fill="#000"  >100mA</text>
<text x="334.80" y="84.50" font-size="7.5" text-anchor="start" fill="#000"  >Green LED</text>
<text x="10.00" y="230.80" font-size="13.5" text-anchor="start" fill="#000"  letter-spacing="0.5">(c)</text>
<line x1="45.90" y1="389.90" x2="45.90" y2="392.90" stroke="#333" stroke-width="1.2" />
<text x="45.90" y="401.90" font-size="9" text-anchor="middle" fill="#000"  >350</text>
<line x1="97.82" y1="389.90" x2="97.82" y2="392.90" stroke="#333" stroke-width="1.2" />
<text x="97.82" y="401.90" font-size="9" text-anchor="middle" fill="#000"  >400</text>
<line x1="149.75" y1="389.90" x2="149.75" y2="392.90" stroke="#333" stroke-width="1.2" />
<text x="149.75" y="401.90" font-size="9" text-anchor="middle" fill="#000"  >450</text>
<line x1="201.67" y1="389.90" x2="201.67" y2="392.90" stroke="#333" stroke-width="1.2" />
<text x="201.67" y="401.90" font-size="9" text-anchor="middle" fill="#000"  >500</text>
<line x1="253.60" y1="389.90" x2="253.60" y2="392.90" stroke="#333" stroke-width="1.2" />
<text x="253.60" y="401.90" font-size="9" text-anchor="middle" fill="#000"  >550</text>
<line x1="71.86" y1="389.90" x2="71.86" y2="391.50" stroke="#333" stroke-width="1.2" />
<line x1="123.79" y1="389.90" x2="123.79" y2="391.50" stroke="#333" stroke-width="1.2" />
<line x1="175.71" y1="389.90" x2="175.71" y2="391.50" stroke="#333" stroke-width="1.2" />
<line x1="227.64" y1="389.90" x2="227.64" y2="391.50" stroke="#333" stroke-width="1.2" />
<line x1="42.90" y1="389.90" x2="45.90" y2="389.90" stroke="#333" stroke-width="1.2" />
<line x1="42.90" y1="358.92" x2="45.90" y2="358.92" stroke="#333" stroke-width="1.2" />
<text x="40.20" y="362.12" font-size="9" text-anchor="end" fill="#000"  >20</text>
<line x1="42.90" y1="327.94" x2="45.90" y2="327.94" stroke="#333" stroke-width="1.2" />
<text x="40.20" y="331.14" font-size="9" text-anchor="end" fill="#000"  >40</text>
<line x1="42.90" y1="296.96" x2="45.90" y2="296.96" stroke="#333" stroke-width="1.2" />
<text x="40.20" y="300.16" font-size="9" text-anchor="end" fill="#000"  >60</text>
<line x1="42.90" y1="265.98" x2="45.90" y2="265.98" stroke="#333" stroke-width="1.2" />
<text x="40.20" y="269.18" font-size="9" text-anchor="end" fill="#000"  >80</text>
<line x1="42.90" y1="235.00" x2="45.90" y2="235.00" stroke="#333" stroke-width="1.2" />
<text x="40.20" y="238.20" font-size="9" text-anchor="end" fill="#000"  >100</text>
<line x1="44.30" y1="374.41" x2="45.90" y2="374.41" stroke="#333" stroke-width="1.2" />
<line x1="44.30" y1="343.43" x2="45.90" y2="343.43" stroke="#333" stroke-width="1.2" />
<line x1="44.30" y1="312.45" x2="45.90" y2="312.45" stroke="#333" stroke-width="1.2" />
<line x1="44.30" y1="281.47" x2="45.90" y2="281.47" stroke="#333" stroke-width="1.2" />
<line x1="44.30" y1="250.49" x2="45.90" y2="250.49" stroke="#333" stroke-width="1.2" />
<text x="149.70" y="414.60" font-size="12" text-anchor="middle" fill="#000"  >Wavelength (nm)</text>
<text x="20.80" y="308.00" font-size="12" text-anchor="middle" fill="#000"  transform="rotate(-90 20.80 308.00)" >Intensity (a.u.)</text>
<rect x="45.90" y="235.00" width="207.70" height="154.90" fill="none" stroke="#222" stroke-width="1.5"/>
<line x1="45.90" y1="235.00" x2="45.90" y2="389.90" stroke="#777" stroke-width="1.8" />
<line x1="253.60" y1="235.00" x2="253.60" y2="389.90" stroke="#444" stroke-width="1.4" />
<polyline points="45.90,389.20 130.02,389.20 130.54,389.20 131.06,389.20 131.58,389.20 132.10,389.20 132.61,389.20 133.13,389.19 133.65,389.19 134.17,389.19 134.69,389.19 135.21,389.18 135.73,389.18 136.25,389.18 136.77,389.17 137.29,389.17 137.81,389.16 138.33,389.16 138.85,389.15 139.37,389.14 139.88,389.14 140.40,389.13 140.92,389.12 141.44,389.11 141.96,389.10 142.48,389.08 143.00,389.06 143.52,389.04 144.04,389.04 144.56,389.05 145.08,389.04 145.60,388.98 146.12,388.96 146.63,388.98 147.15,388.96 147.67,388.92 148.19,388.93 148.71,388.89 149.23,388.81 149.75,388.81 150.27,388.81 150.79,388.74 151.31,388.74 151.83,388.77 152.35,388.73 152.87,388.81 153.38,388.81 153.90,388.72 154.42,388.72 154.94,388.77 155.46,388.75 155.98,388.77 156.50,388.82 157.02,388.79 157.54,388.78 158.06,388.77 158.58,388.71 159.10,388.69 159.62,388.70 160.13,388.77 160.65,388.81 161.17,388.85 161.69,388.87 162.21,388.86 162.73,388.86 163.25,388.88 163.77,388.92 164.29,388.94 164.81,388.94 165.33,388.93 165.85,388.97 166.37,388.96 166.89,388.95 167.40,389.01 167.92,389.04 168.44,389.05 168.96,389.07 169.48,389.06 170.00,389.07 170.52,389.07 171.04,389.07 171.56,389.09 172.08,389.07 172.60,389.08 173.12,389.10 173.64,389.10 174.15,389.11 174.67,389.11 175.19,389.12 175.71,389.13 176.23,389.13 176.75,389.14 177.27,389.14 177.79,389.14 178.31,389.15 178.83,389.15 179.35,389.15 179.87,389.16 180.39,389.16 180.91,389.16 181.42,389.17 181.94,389.17 182.46,389.18 182.98,389.18 183.50,389.18 184.02,389.18 184.54,389.18 185.06,389.19 185.58,389.19 186.10,389.19 186.62,389.19 187.14,389.19 187.66,389.19 188.17,389.19 188.69,389.19 189.21,389.20 189.73,389.20 190.25,389.20 190.77,389.20 191.29,389.20 191.81,389.20 192.33,389.20 192.85,389.20 253.60,389.20" fill="none" stroke="#000000" stroke-width="1.4" stroke-linejoin="round" />
<polyline points="45.90,389.20 130.54,389.20 131.06,389.20 131.58,389.20 132.10,389.19 132.61,389.19 133.13,389.19 133.65,389.18 134.17,389.17 134.69,389.17 135.21,389.16 135.73,389.15 136.25,389.14 136.77,389.13 137.29,389.11 137.81,389.09 138.33,389.08 138.85,389.07 139.37,389.04 139.88,389.01 140.40,388.98 140.92,388.96 141.44,388.95 141.96,388.90 142.48,388.83 143.00,388.82 143.52,388.80 144.04,388.77 144.56,388.72 145.08,388.60 145.60,388.52 146.12,388.54 146.63,388.50 147.15,388.44 147.67,388.39 148.19,388.32 148.71,388.24 149.23,388.07 149.75,388.01 150.27,387.99 150.79,387.91 151.31,387.80 151.83,387.82 152.35,387.87 152.87,387.81 153.38,387.62 153.90,387.56 154.42,387.62 154.94,387.66 155.46,387.86 155.98,387.84 156.50,387.63 157.02,387.64 157.54,387.77 158.06,387.79 158.58,387.70 159.10,387.64 159.62,387.73 160.13,387.91 160.65,388.01 161.17,387.66 161.69,387.68 162.21,387.98 162.73,388.01 163.25,388.20 163.77,388.19 164.29,388.16 164.81,388.34 165.33,388.35 165.85,388.38 166.37,388.44 166.89,388.50 167.40,388.55 167.92,388.52 168.44,388.56 168.96,388.65 169.48,388.69 170.00,388.67 170.52,388.71 171.04,388.78 171.56,388.76 172.08,388.76 172.60,388.80 173.12,388.84 173.64,388.85 174.15,388.86 174.67,388.89 175.19,388.93 175.71,388.95 176.23,388.96 176.75,388.97 177.27,388.98 177.79,389.00 178.31,389.01 178.83,389.03 179.35,389.04 179.87,389.05 180.39,389.06 180.91,389.07 181.42,389.08 181.94,389.09 182.46,389.10 182.98,389.11 183.50,389.12 184.02,389.13 184.54,389.13 185.06,389.14 185.58,389.15 186.10,389.16 186.62,389.16 187.14,389.17 187.66,389.17 188.17,389.17 188.69,389.18 189.21,389.18 189.73,389.19 190.25,389.19 190.77,389.19 191.29,389.20 191.81,389.20 192.33,389.20 192.85,389.20 193.37,389.20 253.60,389.20" fill="none" stroke="#ff0000" stroke-width="1.4" stroke-linejoin="round" />
<polyline points="45.90,389.20 124.83,389.20 125.35,389.19 125.86,389.16 126.38,389.11 126.90,389.04 127.42,388.96 127.94,388.87 128.46,388.77 128.98,388.66 129.50,388.54 130.02,388.39 130.54,388.20 131.06,387.98 131.58,387.73 132.10,387.46 132.61,387.17 133.13,386.85 133.65,386.53 134.17,386.18 134.69,385.77 135.21,385.29 135.73,384.77 136.25,384.20 136.77,383.57 137.29,382.92 137.81,382.22 138.33,381.55 138.85,380.82 139.37,380.03 139.88,379.33 140.40,378.61 140.92,377.80 141.44,376.98 141.96,376.02 142.48,375.01 143.00,374.06 143.52,372.97 144.04,372.14 144.56,371.40 145.08,370.80 145.60,370.12 146.12,369.57 146.63,369.27 147.15,368.96 147.67,368.70 148.19,368.50 148.71,368.32 149.23,368.41 149.75,368.74 150.27,368.90 150.79,369.11 151.31,369.39 151.83,369.67 152.35,370.12 152.87,370.74 153.38,371.43 153.90,372.07 154.42,372.70 154.94,373.41 155.46,374.17 155.98,374.95 156.50,375.66 157.02,376.39 157.54,377.12 158.06,377.73 158.58,378.28 159.10,378.76 159.62,379.24 160.13,379.76 160.65,380.19 161.17,380.58 161.69,381.07 162.21,381.53 162.73,381.91 163.25,382.30 163.77,382.72 164.29,383.08 164.81,383.42 165.33,383.78 165.85,384.10 166.37,384.43 166.89,384.75 167.40,385.02 167.92,385.28 168.44,385.54 168.96,385.78 169.48,386.00 170.00,386.20 170.52,386.40 171.04,386.58 171.56,386.75 172.08,386.93 172.60,387.10 173.12,387.25 173.64,387.40 174.15,387.55 174.67,387.69 175.19,387.82 175.71,387.94 176.23,388.06 176.75,388.17 177.27,388.28 177.79,388.37 178.31,388.46 178.83,388.54 179.35,388.61 179.87,388.67 180.39,388.73 180.91,388.79 181.42,388.85 181.94,388.91 182.46,388.96 182.98,389.01 183.50,389.05 184.02,389.09 184.54,389.13 185.06,389.16 185.58,389.18 186.10,389.19 186.62,389.20 253.60,389.20" fill="none" stroke="#00ee00" stroke-width="1.4" stroke-linejoin="round" />
<polyline points="45.90,389.20 119.11,389.20 119.63,389.19 120.15,389.15 120.67,389.09 121.19,388.99 121.71,388.88 122.23,388.75 122.75,388.61 123.27,388.45 123.79,388.29 124.31,388.12 124.83,387.90 125.35,387.63 125.86,387.32 126.38,386.97 126.90,386.57 127.42,386.15 127.94,385.70 128.46,385.21 128.98,384.71 129.50,384.17 130.02,383.60 130.54,382.94 131.06,382.20 131.58,381.40 132.10,380.48 132.61,379.50 133.13,378.53 133.65,377.49 134.17,376.42 134.69,375.30 135.21,374.18 135.73,373.02 136.25,371.77 136.77,370.62 137.29,369.39 137.81,368.09 138.33,366.64 138.85,365.14 139.37,363.90 139.88,362.46 140.40,360.51 140.92,359.06 141.44,357.95 141.96,356.92 142.48,355.85 143.00,354.80 143.52,354.20 144.04,353.90 144.56,353.63 145.08,352.99 145.60,352.70 146.12,352.98 146.63,352.57 147.15,352.29 147.67,352.98 148.19,353.45 148.71,353.62 149.23,354.12 149.75,354.65 150.27,355.36 150.79,356.58 151.31,357.66 151.83,358.47 152.35,359.44 152.87,360.70 153.38,361.89 153.90,363.13 154.42,364.31 154.94,365.54 155.46,366.71 155.98,367.57 156.50,368.57 157.02,369.69 157.54,370.77 158.06,371.48 158.58,372.04 159.10,372.80 159.62,373.57 160.13,374.34 160.65,375.06 161.17,375.73 161.69,376.41 162.21,377.03 162.73,377.58 163.25,378.17 163.77,378.81 164.29,379.39 164.81,379.93 165.33,380.46 165.85,380.95 166.37,381.44 166.89,381.89 167.40,382.32 167.92,382.72 168.44,383.11 168.96,383.48 169.48,383.81 170.00,384.12 170.52,384.42 171.04,384.71 171.56,384.99 172.08,385.27 172.60,385.52 173.12,385.77 173.64,386.02 174.15,386.26 174.67,386.48 175.19,386.70 175.71,386.90 176.23,387.09 176.75,387.28 177.27,387.45 177.79,387.61 178.31,387.76 178.83,387.90 179.35,388.03 179.87,388.14 180.39,388.25 180.91,388.35 181.42,388.44 181.94,388.54 182.46,388.63 182.98,388.72 183.50,388.80 184.02,388.88 184.54,388.95 185.06,389.01 185.58,389.07 186.10,389.12 186.62,389.15 187.14,389.18 187.66,389.20 188.17,389.20 253.60,389.20" fill="none" stroke="#0000ff" stroke-width="1.4" stroke-linejoin="round" />
<polyline points="45.90,389.20 113.40,389.20 113.92,389.19 114.44,389.16 114.96,389.09 115.48,389.00 116.00,388.88 116.52,388.74 117.04,388.58 117.56,388.40 118.08,388.21 118.59,388.02 119.11,387.82 119.63,387.59 120.15,387.30 120.67,386.97 121.19,386.58 121.71,386.15 122.23,385.69 122.75,385.19 123.27,384.64 123.79,384.06 124.31,383.48 124.83,382.86 125.35,382.21 125.86,381.51 126.38,380.72 126.90,379.85 127.42,378.85 127.94,377.84 128.46,376.72 128.98,375.55 129.50,374.40 130.02,373.10 130.54,371.81 131.06,370.49 131.58,369.16 132.10,367.80 132.61,366.32 133.13,364.97 133.65,363.51 134.17,361.88 134.69,360.39 135.21,358.74 135.73,356.95 136.25,355.32 136.77,353.52 137.29,351.40 137.81,349.59 138.33,347.88 138.85,346.42 139.37,345.65 139.88,344.26 140.40,342.67 140.92,341.48 141.44,340.80 141.96,340.40 142.48,339.99 143.00,339.91 143.52,339.40 144.04,338.81 144.56,338.55 145.08,338.38 145.60,338.40 146.12,339.26 146.63,340.09 147.15,340.06 147.67,340.34 148.19,341.74 148.71,343.16 149.23,343.76 149.75,344.98 150.27,346.34 150.79,347.85 151.31,349.46 151.83,350.80 152.35,352.28 152.87,353.50 153.38,354.98 153.90,356.51 154.42,357.92 154.94,359.30 155.46,360.73 155.98,362.26 156.50,363.50 157.02,364.29 157.54,365.12 158.06,366.08 158.58,367.08 159.10,368.10 159.62,369.08 160.13,370.00 160.65,370.78 161.17,371.60 161.69,372.48 162.21,373.20 162.73,373.92 163.25,374.72 163.77,375.44 164.29,376.16 164.81,376.87 165.33,377.50 165.85,378.12 166.37,378.76 166.89,379.30 167.40,379.83 167.92,380.36 168.44,380.87 168.96,381.32 169.48,381.74 170.00,382.17 170.52,382.54 171.04,382.91 171.56,383.27 172.08,383.61 172.60,383.94 173.12,384.28 173.64,384.61 174.15,384.91 174.67,385.21 175.19,385.50 175.71,385.77 176.23,386.04 176.75,386.29 177.27,386.52 177.79,386.74 178.31,386.96 178.83,387.16 179.35,387.33 179.87,387.50 180.39,387.66 180.91,387.80 181.42,387.93 181.94,388.06 182.46,388.18 182.98,388.30 183.50,388.42 184.02,388.53 184.54,388.64 185.06,388.74 185.58,388.83 186.10,388.92 186.62,388.99 187.14,389.06 187.66,389.11 188.17,389.15 188.69,389.18 189.21,389.20 253.60,389.20" fill="none" stroke="#00ffff" stroke-width="1.4" stroke-linejoin="round" />
<polyline points="45.90,389.20 113.40,389.20 113.92,389.17 114.44,389.07 114.96,388.89 115.48,388.65 116.00,388.36 116.52,388.02 117.04,387.64 117.56,387.23 118.08,386.80 118.59,386.36 119.11,385.84 119.63,385.20 120.15,384.42 120.67,383.55 121.19,382.58 121.71,381.50 122.23,380.33 122.75,379.10 123.27,377.82 123.79,376.43 124.31,375.04 124.83,373.56 125.35,371.79 125.86,369.88 126.38,367.76 126.90,365.39 127.42,362.84 127.94,360.17 128.46,357.53 128.98,354.83 129.50,351.77 130.02,348.82 130.54,345.93 131.06,342.80 131.58,339.84 132.10,336.53 132.61,333.27 133.13,329.97 133.65,325.80 134.17,321.47 134.69,318.08 135.21,314.59 135.73,309.98 136.25,306.24 136.77,302.06 137.29,298.30 137.81,296.00 138.33,294.31 138.85,292.15 139.37,290.04 139.88,289.13 140.40,287.85 140.92,286.26 141.44,285.70 141.96,285.87 142.48,286.02 143.00,285.63 143.52,285.68 144.04,288.17 144.56,289.37 145.08,289.25 145.60,291.33 146.12,294.06 146.63,295.23 147.15,297.13 147.67,300.34 148.19,302.76 148.71,304.89 149.23,308.01 149.75,311.32 150.27,314.13 150.79,316.89 151.31,319.43 151.83,322.11 152.35,325.33 152.87,328.55 153.38,331.42 153.90,334.13 154.42,336.23 154.94,337.93 155.46,339.96 155.98,341.72 156.50,343.37 157.02,345.53 157.54,347.42 158.06,348.95 158.58,350.79 159.10,352.58 159.62,354.03 160.13,355.53 160.65,357.08 161.17,358.72 161.69,360.40 162.21,361.79 162.73,363.06 163.25,364.32 163.77,365.56 164.29,366.88 164.81,368.20 165.33,369.26 165.85,370.25 166.37,371.28 166.89,372.23 167.40,373.18 167.92,374.09 168.44,374.81 168.96,375.53 169.48,376.32 170.00,377.03 170.52,377.69 171.04,378.38 171.56,379.05 172.08,379.69 172.60,380.31 173.12,380.91 173.64,381.49 174.15,382.04 174.67,382.58 175.19,383.08 175.71,383.56 176.23,384.02 176.75,384.44 177.27,384.85 177.79,385.23 178.31,385.57 178.83,385.89 179.35,386.18 179.87,386.45 180.39,386.70 180.91,386.95 181.42,387.20 181.94,387.44 182.46,387.67 182.98,387.89 183.50,388.10 184.02,388.29 184.54,388.47 185.06,388.64 185.58,388.79 186.10,388.92 186.62,389.02 187.14,389.11 187.66,389.17 188.17,389.20 253.60,389.20" fill="none" stroke="#ff00ff" stroke-width="1.4" stroke-linejoin="round" />
<polyline points="45.90,389.20 109.25,389.20 109.77,389.15 110.29,389.02 110.81,388.81 111.33,388.52 111.84,388.18 112.36,387.78 112.88,387.33 113.40,386.85 113.92,386.34 114.44,385.81 114.96,385.26 115.48,384.61 116.00,383.82 116.52,382.89 117.04,381.87 117.56,380.73 118.08,379.46 118.59,378.09 119.11,376.62 119.63,375.06 120.15,373.45 120.67,371.76 121.19,370.01 121.71,368.27 122.23,366.29 122.75,363.97 123.27,361.37 123.79,358.57 124.31,355.56 124.83,352.38 125.35,349.15 125.86,345.93 126.38,342.58 126.90,338.79 127.42,335.24 127.94,331.74 128.46,327.49 128.98,323.14 129.50,319.92 130.02,316.53 130.54,312.39 131.06,308.62 131.58,304.09 132.10,298.72 132.61,293.43 133.13,288.55 133.65,282.83 134.17,277.91 134.69,273.99 135.21,268.79 135.73,264.72 136.25,262.67 136.77,260.74 137.29,257.73 137.81,254.82 138.33,253.04 138.85,251.81 139.37,250.61 139.88,249.71 140.40,248.86 140.92,248.23 141.44,248.62 141.96,248.70 142.48,249.36 143.00,251.10 143.52,251.80 144.04,252.79 144.56,254.01 145.08,255.88 145.60,260.03 146.12,264.18 146.63,267.51 147.15,271.45 147.67,274.19 148.19,277.22 148.71,282.16 149.23,286.00 149.75,289.64 150.27,294.02 150.79,298.42 151.31,303.28 151.83,306.80 152.35,310.02 152.87,313.87 153.38,316.57 153.90,318.87 154.42,321.83 154.94,324.55 155.46,326.87 155.98,329.39 156.50,332.02 157.02,334.23 157.54,336.57 158.06,338.93 158.58,341.17 159.10,343.53 159.62,345.53 160.13,347.64 160.65,349.74 161.17,351.59 161.69,353.43 162.21,355.29 162.73,357.22 163.25,358.98 163.77,360.59 164.29,362.09 164.81,363.47 165.33,364.82 165.85,366.14 166.37,367.36 166.89,368.52 167.40,369.59 167.92,370.60 168.44,371.55 168.96,372.54 169.48,373.55 170.00,374.48 170.52,375.39 171.04,376.25 171.56,377.10 172.08,377.89 172.60,378.68 173.12,379.46 173.64,380.15 174.15,380.84 174.67,381.49 175.19,382.13 175.71,382.71 176.23,383.25 176.75,383.76 177.27,384.24 177.79,384.68 178.31,385.09 178.83,385.45 179.35,385.79 179.87,386.13 180.39,386.46 180.91,386.79 181.42,387.11 181.94,387.41 182.46,387.69 182.98,387.96 183.50,388.21 184.02,388.43 184.54,388.64 185.06,388.81 185.58,388.96 186.10,389.07 186.62,389.15 187.14,389.20 253.60,389.20" fill="none" stroke="#ff8000" stroke-width="1.4" stroke-linejoin="round" />
<line x1="49.60" y1="241.90" x2="67.50" y2="241.90" stroke="#000" stroke-width="1.4" />
<text x="69.60" y="244.40" font-size="7.5" text-anchor="start" fill="#000"  >0.5 mA</text>
<line x1="49.60" y1="251.70" x2="67.50" y2="251.70" stroke="#f00" stroke-width="1.4" />
<text x="69.60" y="254.20" font-size="7.5" text-anchor="start" fill="#000"  >1mA</text>
<line x1="49.60" y1="261.60" x2="67.50" y2="261.60" stroke="#00ee00" stroke-width="1.4" />
<text x="69.60" y="264.10" font-size="7.5" text-anchor="start" fill="#000"  >4 mA</text>
<line x1="49.60" y1="271.40" x2="67.50" y2="271.40" stroke="#00f" stroke-width="1.4" />
<text x="69.60" y="273.90" font-size="7.5" text-anchor="start" fill="#000"  >7 mA</text>
<line x1="49.60" y1="281.30" x2="67.50" y2="281.30" stroke="#0ff" stroke-width="1.4" />
<text x="69.60" y="283.80" font-size="7.5" text-anchor="start" fill="#000"  >10 mA</text>
<line x1="49.60" y1="291.20" x2="67.50" y2="291.20" stroke="#f0f" stroke-width="1.4" />
<text x="69.60" y="293.70" font-size="7.5" text-anchor="start" fill="#000"  >20 mA</text>
<line x1="49.60" y1="301.00" x2="67.50" y2="301.00" stroke="#ff8000" stroke-width="1.4" />
<text x="69.60" y="303.50" font-size="7.5" text-anchor="start" fill="#000"  >30 mA</text>
<text x="49.60" y="313.40" font-size="7.5" text-anchor="start" fill="#000"  >Blue LD</text>
<text x="290.40" y="229.90" font-size="13.5" text-anchor="start" fill="#000"  letter-spacing="0.5">(d)</text>
<line x1="331.40" y1="387.30" x2="331.40" y2="390.30" stroke="#000" stroke-width="1.2" />
<text x="331.40" y="399.30" font-size="9" text-anchor="middle" fill="#000"  >400</text>
<line x1="383.50" y1="387.30" x2="383.50" y2="390.30" stroke="#000" stroke-width="1.2" />
<text x="383.50" y="399.30" font-size="9" text-anchor="middle" fill="#000"  >450</text>
<line x1="435.60" y1="387.30" x2="435.60" y2="390.30" stroke="#000" stroke-width="1.2" />
<text x="435.60" y="399.30" font-size="9" text-anchor="middle" fill="#000"  >500</text>
<line x1="487.70" y1="387.30" x2="487.70" y2="390.30" stroke="#000" stroke-width="1.2" />
<text x="487.70" y="399.30" font-size="9" text-anchor="middle" fill="#000"  >550</text>
<line x1="539.80" y1="387.30" x2="539.80" y2="390.30" stroke="#000" stroke-width="1.2" />
<text x="539.80" y="399.30" font-size="9" text-anchor="middle" fill="#000"  >600</text>
<line x1="357.45" y1="387.30" x2="357.45" y2="388.90" stroke="#000" stroke-width="1.2" />
<line x1="409.55" y1="387.30" x2="409.55" y2="388.90" stroke="#000" stroke-width="1.2" />
<line x1="461.65" y1="387.30" x2="461.65" y2="388.90" stroke="#000" stroke-width="1.2" />
<line x1="513.75" y1="387.30" x2="513.75" y2="388.90" stroke="#000" stroke-width="1.2" />
<line x1="328.40" y1="387.30" x2="331.40" y2="387.30" stroke="#000" stroke-width="1.2" />
<text x="325.70" y="390.50" font-size="9" text-anchor="end" fill="#000"  >0</text>
<line x1="328.40" y1="356.56" x2="331.40" y2="356.56" stroke="#000" stroke-width="1.2" />
<text x="325.70" y="359.76" font-size="9" text-anchor="end" fill="#000"  >20</text>
<line x1="328.40" y1="325.82" x2="331.40" y2="325.82" stroke="#000" stroke-width="1.2" />
<text x="325.70" y="329.02" font-size="9" text-anchor="end" fill="#000"  >40</text>
<line x1="328.40" y1="295.08" x2="331.40" y2="295.08" stroke="#000" stroke-width="1.2" />
<text x="325.70" y="298.28" font-size="9" text-anchor="end" fill="#000"  >60</text>
<line x1="328.40" y1="264.34" x2="331.40" y2="264.34" stroke="#000" stroke-width="1.2" />
<text x="325.70" y="267.54" font-size="9" text-anchor="end" fill="#000"  >80</text>
<line x1="328.40" y1="233.60" x2="331.40" y2="233.60" stroke="#000" stroke-width="1.2" />
<text x="325.70" y="236.80" font-size="9" text-anchor="end" fill="#000"  >100</text>
<line x1="329.80" y1="371.93" x2="331.40" y2="371.93" stroke="#000" stroke-width="1.2" />
<line x1="329.80" y1="341.19" x2="331.40" y2="341.19" stroke="#000" stroke-width="1.2" />
<line x1="329.80" y1="310.45" x2="331.40" y2="310.45" stroke="#000" stroke-width="1.2" />
<line x1="329.80" y1="279.71" x2="331.40" y2="279.71" stroke="#000" stroke-width="1.2" />
<line x1="329.80" y1="248.97" x2="331.40" y2="248.97" stroke="#000" stroke-width="1.2" />
<text x="435.60" y="416.00" font-size="12" text-anchor="middle" fill="#000"  >Wavelength (nm)</text>
<text x="306.20" y="305.40" font-size="12" text-anchor="middle" fill="#000"  transform="rotate(-90 306.20 305.40)" >EL Intensity (a.u.)</text>
<rect x="331.40" y="233.60" width="208.40" height="153.70" fill="none" stroke="#000" stroke-width="1.5"/>
<polyline points="331.40,386.60 431.95,386.60 432.47,386.60 432.99,386.60 433.52,386.60 434.04,386.60 434.56,386.59 435.08,386.59 435.60,386.58 436.12,386.58 436.64,386.57 437.16,386.56 437.68,386.54 438.20,386.53 438.73,386.51 439.25,386.49 439.77,386.46 440.29,386.43 440.81,386.40 441.33,386.35 441.85,386.29 442.37,386.25 442.89,386.20 443.41,386.15 443.94,386.08 444.46,386.00 444.98,385.90 445.50,385.82 446.02,385.74 446.54,385.64 447.06,385.52 447.58,385.44 448.10,385.41 448.62,385.31 449.15,385.24 449.67,385.21 450.19,385.01 450.71,385.06 451.23,385.20 451.75,385.22 452.27,384.96 452.79,384.73 453.31,384.81 453.83,384.78 454.36,384.81 454.88,384.90 455.40,384.86 455.92,384.85 456.44,384.81 456.96,384.57 457.48,384.43 458.00,384.66 458.52,384.91 459.04,384.93 459.57,385.07 460.09,385.13 460.61,385.03 461.13,384.90 461.65,384.84 462.17,385.02 462.69,385.11 463.21,385.11 463.73,385.19 464.25,385.17 464.78,385.20 465.30,385.27 465.82,385.37 466.34,385.47 466.86,385.54 467.38,385.59 467.90,385.67 468.42,385.73 468.94,385.79 469.46,385.83 469.99,385.92 470.51,386.01 471.03,386.04 471.55,386.09 472.07,386.16 472.59,386.19 473.11,386.20 473.63,386.26 474.15,386.31 474.67,386.33 475.20,386.36 475.72,386.39 476.24,386.41 476.76,386.43 477.28,386.46 477.80,386.48 478.32,386.50 478.84,386.51 479.36,386.52 479.88,386.53 480.41,386.54 480.93,386.55 481.45,386.55 481.97,386.56 482.49,386.57 483.01,386.57 483.53,386.58 484.05,386.58 484.57,386.59 485.09,386.59 485.62,386.59 486.14,386.60 486.66,386.60 487.18,386.60 539.80,386.60" fill="none" stroke="#000000" stroke-width="1.4" stroke-linejoin="round" />
<polyline points="331.40,386.60 425.70,386.60 426.22,386.60 426.74,386.60 427.26,386.60 427.78,386.59 428.31,386.59 428.83,386.58 429.35,386.57 429.87,386.56 430.39,386.54 430.91,386.51 431.43,386.49 431.95,386.46 432.47,386.42 432.99,386.38 433.52,386.32 434.04,386.27 434.56,386.20 435.08,386.12 435.60,386.01 436.12,385.90 436.64,385.79 437.16,385.68 437.68,385.52 438.20,385.37 438.73,385.23 439.25,385.05 439.77,384.85 440.29,384.64 440.81,384.38 441.33,384.12 441.85,384.02 442.37,383.83 442.89,383.62 443.41,383.44 443.94,383.05 444.46,382.92 444.98,382.77 445.50,382.46 446.02,382.24 446.54,382.08 447.06,381.96 447.58,381.83 448.10,381.69 448.62,381.57 449.15,381.76 449.67,381.71 450.19,381.54 450.71,381.27 451.23,381.35 451.75,381.82 452.27,381.49 452.79,381.33 453.31,381.77 453.83,381.83 454.36,381.72 454.88,381.67 455.40,381.29 455.92,381.35 456.44,381.68 456.96,381.67 457.48,381.94 458.00,382.32 458.52,382.12 459.04,382.09 459.57,382.52 460.09,382.53 460.61,382.67 461.13,382.93 461.65,382.91 462.17,383.07 462.69,383.30 463.21,383.46 463.73,383.54 464.25,383.78 464.78,384.19 465.30,384.24 465.82,384.28 466.34,384.32 466.86,384.47 467.38,384.73 467.90,384.86 468.42,384.99 468.94,385.13 469.46,385.29 469.99,385.42 470.51,385.49 471.03,385.60 471.55,385.72 472.07,385.79 472.59,385.87 473.11,385.95 473.63,386.01 474.15,386.07 474.67,386.14 475.20,386.20 475.72,386.25 476.24,386.30 476.76,386.34 477.28,386.36 477.80,386.39 478.32,386.42 478.84,386.44 479.36,386.46 479.88,386.48 480.41,386.50 480.93,386.51 481.45,386.53 481.97,386.54 482.49,386.55 483.01,386.56 483.53,386.57 484.05,386.58 484.57,386.59 485.09,386.59 485.62,386.60 486.14,386.60 539.80,386.60" fill="none" stroke="#ff0000" stroke-width="1.4" stroke-linejoin="round" />
<polyline points="331.40,386.60 407.47,386.60 407.99,386.60 408.51,386.60 409.03,386.59 409.55,386.58 410.07,386.57 410.59,386.55 411.11,386.53 411.63,386.51 412.15,386.47 412.68,386.42 413.20,386.36 413.72,386.30 414.24,386.22 414.76,386.14 415.28,386.04 415.80,385.93 416.32,385.79 416.84,385.64 417.36,385.46 417.89,385.27 418.41,385.06 418.93,384.83 419.45,384.55 419.97,384.21 420.49,383.83 421.01,383.44 421.53,383.03 422.05,382.61 422.57,382.16 423.10,381.68 423.62,381.20 424.14,380.67 424.66,380.06 425.18,379.41 425.70,378.74 426.22,378.04 426.74,377.33 427.26,376.59 427.78,375.83 428.31,375.03 428.83,374.27 429.35,373.54 429.87,372.83 430.39,371.97 430.91,371.17 431.43,370.44 431.95,369.71 432.47,369.07 432.99,368.30 433.52,367.68 434.04,367.17 434.56,366.77 435.08,366.58 435.60,366.36 436.12,365.86 436.64,365.31 437.16,365.12 437.68,364.83 438.20,364.47 438.73,364.47 439.25,364.30 439.77,363.86 440.29,363.81 440.81,363.88 441.33,363.70 441.85,363.67 442.37,363.52 442.89,363.29 443.41,363.36 443.94,363.42 444.46,363.56 444.98,363.74 445.50,363.99 446.02,364.17 446.54,364.36 447.06,364.91 447.58,365.22 448.10,365.50 448.62,365.90 449.15,366.05 449.67,366.25 450.19,366.75 450.71,367.35 451.23,367.62 451.75,367.95 452.27,368.37 452.79,368.70 453.31,369.21 453.83,369.63 454.36,370.13 454.88,370.77 455.40,371.37 455.92,371.91 456.44,372.43 456.96,373.05 457.48,373.62 458.00,374.11 458.52,374.69 459.04,375.27 459.57,375.74 460.09,376.27 460.61,376.76 461.13,377.23 461.65,377.77 462.17,378.30 462.69,378.82 463.21,379.27 463.73,379.69 464.25,380.11 464.78,380.57 465.30,380.98 465.82,381.32 466.34,381.69 466.86,382.03 467.38,382.35 467.90,382.66 468.42,382.96 468.94,383.23 469.46,383.48 469.99,383.73 470.51,383.96 471.03,384.16 471.55,384.36 472.07,384.56 472.59,384.75 473.11,384.93 473.63,385.09 474.15,385.24 474.67,385.37 475.20,385.48 475.72,385.58 476.24,385.67 476.76,385.76 477.28,385.84 477.80,385.91 478.32,385.98 478.84,386.04 479.36,386.10 479.88,386.15 480.41,386.20 480.93,386.25 481.45,386.29 481.97,386.33 482.49,386.37 483.01,386.40 483.53,386.44 484.05,386.47 484.57,386.50 485.09,386.53 485.62,386.55 486.14,386.57 486.66,386.59 487.18,386.60 487.70,386.60 539.80,386.60" fill="none" stroke="#00ee00" stroke-width="1.4" stroke-linejoin="round" />
<polyline points="331.40,386.60 404.86,386.60 405.38,386.60 405.90,386.59 406.42,386.57 406.94,386.55 407.47,386.52 407.99,386.49 408.51,386.45 409.03,386.38 409.55,386.29 410.07,386.18 410.59,386.05 411.11,385.91 411.63,385.75 412.15,385.58 412.68,385.37 413.20,385.11 413.72,384.81 414.24,384.49 414.76,384.12 415.28,383.72 415.80,383.28 416.32,382.71 416.84,382.06 417.36,381.34 417.89,380.58 418.41,379.81 418.93,379.00 419.45,378.15 419.97,377.24 420.49,376.26 421.01,375.19 421.53,374.07 422.05,372.89 422.57,371.55 423.10,370.13 423.62,368.68 424.14,367.23 424.66,365.85 425.18,364.41 425.70,362.86 426.22,361.53 426.74,360.18 427.26,358.73 427.78,357.32 428.31,355.85 428.83,354.56 429.35,353.33 429.87,352.17 430.39,351.26 430.91,350.45 431.43,349.52 431.95,348.85 432.47,348.15 432.99,347.37 433.52,347.06 434.04,346.63 434.56,346.03 435.08,345.12 435.60,344.77 436.12,345.12 436.64,344.72 437.16,344.48 437.68,344.69 438.20,344.29 438.73,343.75 439.25,343.37 439.77,343.54 440.29,344.13 440.81,344.34 441.33,344.17 441.85,344.13 442.37,344.83 442.89,345.26 443.41,345.67 443.94,346.65 444.46,347.04 444.98,347.36 445.50,348.23 446.02,348.96 446.54,349.34 447.06,349.76 447.58,350.56 448.10,351.14 448.62,351.80 449.15,352.78 449.67,353.37 450.19,353.94 450.71,354.91 451.23,355.94 451.75,356.75 452.27,357.51 452.79,358.52 453.31,359.58 453.83,360.55 454.36,361.63 454.88,362.47 455.40,363.31 455.92,364.22 456.44,365.15 456.96,366.05 457.48,366.92 458.00,367.84 458.52,368.80 459.04,369.75 459.57,370.60 460.09,371.37 460.61,372.18 461.13,373.06 461.65,373.90 462.17,374.65 462.69,375.28 463.21,375.97 463.73,376.65 464.25,377.29 464.78,377.88 465.30,378.40 465.82,378.94 466.34,379.48 466.86,380.00 467.38,380.45 467.90,380.90 468.42,381.33 468.94,381.70 469.46,382.06 469.99,382.41 470.51,382.75 471.03,383.07 471.55,383.39 472.07,383.68 472.59,383.94 473.11,384.18 473.63,384.39 474.15,384.58 474.67,384.74 475.20,384.90 475.72,385.04 476.24,385.18 476.76,385.30 477.28,385.42 477.80,385.53 478.32,385.63 478.84,385.73 479.36,385.82 479.88,385.90 480.41,385.97 480.93,386.04 481.45,386.11 481.97,386.17 482.49,386.24 483.01,386.30 483.53,386.35 484.05,386.41 484.57,386.45 485.09,386.50 485.62,386.53 486.14,386.56 486.66,386.59 487.18,386.60 539.80,386.60" fill="none" stroke="#0000ff" stroke-width="1.4" stroke-linejoin="round" />
<polyline points="331.40,386.60 399.13,386.60 399.65,386.60 400.17,386.58 400.69,386.56 401.21,386.54 401.73,386.50 402.26,386.47 402.78,386.43 403.30,386.37 403.82,386.28 404.34,386.16 404.86,386.03 405.38,385.87 405.90,385.70 406.42,385.52 406.94,385.32 407.47,385.08 407.99,384.79 408.51,384.46 409.03,384.09 409.55,383.68 410.07,383.23 410.59,382.76 411.11,382.21 411.63,381.54 412.15,380.77 412.68,379.91 413.20,379.00 413.72,378.13 414.24,377.21 414.76,376.22 415.28,375.16 415.80,374.07 416.32,372.93 416.84,371.72 417.36,370.36 417.89,368.87 418.41,367.31 418.93,365.68 419.45,364.15 419.97,362.30 420.49,360.59 421.01,358.81 421.53,356.85 422.05,355.32 422.57,353.67 423.10,352.02 423.62,350.44 424.14,348.91 424.66,347.25 425.18,346.04 425.70,344.61 426.22,342.89 426.74,341.66 427.26,340.58 427.78,339.86 428.31,338.85 428.83,337.79 429.35,337.06 429.87,336.20 430.39,335.24 430.91,334.34 431.43,334.21 431.95,333.99 432.47,333.77 432.99,333.74 433.52,333.27 434.04,332.83 434.56,332.37 435.08,332.03 435.60,331.81 436.12,331.74 436.64,331.92 437.16,331.84 437.68,331.89 438.20,332.06 438.73,332.15 439.25,332.12 439.77,332.67 440.29,333.53 440.81,333.73 441.33,334.61 441.85,335.58 442.37,335.83 442.89,336.28 443.41,337.27 443.94,338.32 444.46,339.27 444.98,340.27 445.50,340.74 446.02,341.35 446.54,342.44 447.06,343.23 447.58,344.26 448.10,345.58 448.62,346.62 449.15,347.98 449.67,349.14 450.19,350.04 450.71,351.42 451.23,352.64 451.75,353.76 452.27,355.12 452.79,356.40 453.31,357.57 453.83,358.79 454.36,359.88 454.88,361.08 455.40,362.37 455.92,363.49 456.44,364.48 456.96,365.54 457.48,366.71 458.00,367.79 458.52,368.89 459.04,369.97 459.57,370.95 460.09,371.85 460.61,372.72 461.13,373.63 461.65,374.40 462.17,375.12 462.69,375.93 463.21,376.67 463.73,377.32 464.25,377.94 464.78,378.57 465.30,379.15 465.82,379.68 466.34,380.18 466.86,380.64 467.38,381.11 467.90,381.56 468.42,381.98 468.94,382.38 469.46,382.76 469.99,383.10 470.51,383.42 471.03,383.71 471.55,383.96 472.07,384.17 472.59,384.37 473.11,384.56 473.63,384.73 474.15,384.90 474.67,385.05 475.20,385.20 475.72,385.33 476.24,385.45 476.76,385.57 477.28,385.68 477.80,385.77 478.32,385.86 478.84,385.95 479.36,386.04 479.88,386.12 480.41,386.19 480.93,386.27 481.45,386.34 481.97,386.40 482.49,386.46 483.01,386.51 483.53,386.55 484.05,386.58 484.57,386.60 539.80,386.60" fill="none" stroke="#00ffff" stroke-width="1.4" stroke-linejoin="round" />
<polyline points="331.40,386.60 394.96,386.60 395.48,386.60 396.00,386.58 396.52,386.56 397.05,386.52 397.57,386.46 398.09,386.40 398.61,386.34 399.13,386.26 399.65,386.13 400.17,385.95 400.69,385.73 401.21,385.47 401.73,385.19 402.26,384.87 402.78,384.54 403.30,384.16 403.82,383.69 404.34,383.15 404.86,382.53 405.38,381.85 405.90,381.09 406.42,380.28 406.94,379.41 407.47,378.33 407.99,377.06 408.51,375.64 409.03,374.06 409.55,372.45 410.07,370.87 410.59,369.15 411.11,367.33 411.63,365.43 412.15,363.44 412.68,361.30 413.20,359.02 413.72,356.47 414.24,353.82 414.76,351.08 415.28,348.02 415.80,345.19 416.32,342.30 416.84,339.06 417.36,336.11 417.89,332.98 418.41,330.11 418.93,327.41 419.45,323.98 419.97,321.27 420.49,318.86 421.01,315.89 421.53,313.03 422.05,310.12 422.57,308.02 423.10,305.60 423.62,302.87 424.14,301.79 424.66,300.88 425.18,299.44 425.70,297.61 426.22,296.09 426.74,294.76 427.26,293.13 427.78,292.53 428.31,292.48 428.83,292.78 429.35,291.80 429.87,290.17 430.39,289.84 430.91,289.96 431.43,289.20 431.95,288.57 432.47,288.45 432.99,287.99 433.52,288.00 434.04,288.31 434.56,289.65 435.08,290.18 435.60,290.06 436.12,291.05 436.64,292.23 437.16,293.42 437.68,294.38 438.20,295.29 438.73,296.21 439.25,297.89 439.77,299.39 440.29,299.77 440.81,300.42 441.33,302.06 441.85,303.93 442.37,304.71 442.89,306.35 443.41,308.13 443.94,309.26 444.46,311.18 444.98,312.93 445.50,314.72 446.02,316.90 446.54,318.77 447.06,320.14 447.58,322.28 448.10,324.63 448.62,326.38 449.15,328.79 449.67,331.15 450.19,333.14 450.71,335.09 451.23,337.00 451.75,338.82 452.27,340.75 452.79,342.74 453.31,344.59 453.83,346.51 454.36,348.51 454.88,350.33 455.40,352.11 455.92,353.98 456.44,355.74 456.96,357.32 457.48,358.89 458.00,360.50 458.52,361.97 459.04,363.47 459.57,364.78 460.09,365.99 460.61,367.21 461.13,368.41 461.65,369.63 462.17,370.71 462.69,371.70 463.21,372.65 463.73,373.58 464.25,374.46 464.78,375.31 465.30,376.11 465.82,376.85 466.34,377.57 466.86,378.29 467.38,378.98 467.90,379.62 468.42,380.20 468.94,380.74 469.46,381.24 469.99,381.68 470.51,382.05 471.03,382.40 471.55,382.73 472.07,383.03 472.59,383.31 473.11,383.59 473.63,383.84 474.15,384.08 474.67,384.31 475.20,384.52 475.72,384.71 476.24,384.89 476.76,385.06 477.28,385.22 477.80,385.36 478.32,385.50 478.84,385.64 479.36,385.78 479.88,385.90 480.41,386.02 480.93,386.14 481.45,386.24 481.97,386.34 482.49,386.42 483.01,386.49 483.53,386.55 484.05,386.60 484.57,386.60 539.80,386.60" fill="none" stroke="#ff00ff" stroke-width="1.4" stroke-linejoin="round" />
<polyline points="331.40,386.60 388.71,386.60 389.23,386.60 389.75,386.58 390.27,386.55 390.79,386.51 391.31,386.45 391.84,386.38 392.36,386.30 392.88,386.22 393.40,386.11 393.92,385.94 394.44,385.73 394.96,385.46 395.48,385.15 396.00,384.81 396.52,384.44 397.05,384.04 397.57,383.62 398.09,383.12 398.61,382.53 399.13,381.85 399.65,381.09 400.17,380.27 400.69,379.35 401.21,378.37 401.73,377.35 402.26,376.16 402.78,374.75 403.30,373.14 403.82,371.39 404.34,369.48 404.86,367.51 405.38,365.47 405.90,363.38 406.42,361.35 406.94,359.03 407.47,356.48 407.99,353.89 408.51,351.31 409.03,348.60 409.55,345.52 410.07,342.20 410.59,338.63 411.11,335.07 411.63,331.59 412.15,327.93 412.68,324.05 413.20,320.42 413.72,317.05 414.24,313.53 414.76,309.67 415.28,305.87 415.80,302.55 416.32,298.73 416.84,294.65 417.36,291.07 417.89,287.54 418.41,284.37 418.93,281.28 419.45,278.34 419.97,275.71 420.49,273.62 421.01,272.53 421.53,271.48 422.05,268.96 422.57,266.29 423.10,265.25 423.62,264.25 424.14,263.16 424.66,260.64 425.18,259.59 425.70,260.34 426.22,258.10 426.74,255.88 427.26,255.85 427.78,255.48 428.31,254.37 428.83,254.44 429.35,252.91 429.87,251.91 430.39,252.72 430.91,252.82 431.43,252.97 431.95,253.81 432.47,254.54 432.99,254.50 433.52,254.87 434.04,255.95 434.56,257.11 435.08,258.52 435.60,259.41 436.12,261.25 436.64,264.08 437.16,265.03 437.68,265.60 438.20,267.45 438.73,269.41 439.25,270.90 439.77,272.59 440.29,273.85 440.81,276.34 441.33,279.17 441.85,280.84 442.37,282.90 442.89,285.10 443.41,286.83 443.94,289.21 444.46,292.39 444.98,294.85 445.50,297.12 446.02,299.44 446.54,302.59 447.06,305.74 447.58,307.97 448.10,310.55 448.62,313.38 449.15,316.32 449.67,319.14 450.19,321.79 450.71,324.17 451.23,326.48 451.75,329.08 452.27,331.74 452.79,334.17 453.31,336.76 453.83,338.94 454.36,341.25 454.88,343.77 455.40,345.89 455.92,348.03 456.44,350.07 456.96,352.16 457.48,353.99 458.00,355.77 458.52,357.72 459.04,359.30 459.57,360.78 460.09,362.39 460.61,363.90 461.13,365.35 461.65,366.66 462.17,367.94 462.69,369.24 463.21,370.42 463.73,371.48 464.25,372.50 464.78,373.48 465.30,374.42 465.82,375.36 466.34,376.25 466.86,377.08 467.38,377.87 467.90,378.60 468.42,379.26 468.94,379.84 469.46,380.35 469.99,380.81 470.51,381.24 471.03,381.64 471.55,382.03 472.07,382.41 472.59,382.76 473.11,383.08 473.63,383.37 474.15,383.65 474.67,383.92 475.20,384.17 475.72,384.40 476.24,384.61 476.76,384.81 477.28,385.00 477.80,385.19 478.32,385.37 478.84,385.54 479.36,385.71 479.88,385.86 480.41,386.01 480.93,386.14 481.45,386.27 481.97,386.37 482.49,386.47 483.01,386.54 483.53,386.60 484.05,386.60 539.80,386.60" fill="none" stroke="#ff8000" stroke-width="1.4" stroke-linejoin="round" />
<line x1="339.60" y1="240.50" x2="357.90" y2="240.50" stroke="#000" stroke-width="1.4" />
<text x="359.90" y="243.00" font-size="7.5" text-anchor="start" fill="#000"  >0.5 mA</text>
<line x1="339.60" y1="250.00" x2="357.90" y2="250.00" stroke="#f00" stroke-width="1.4" />
<text x="359.90" y="252.50" font-size="7.5" text-anchor="start" fill="#000"  >1 mA</text>
<line x1="339.60" y1="259.90" x2="357.90" y2="259.90" stroke="#00ee00" stroke-width="1.4" />
<text x="359.90" y="262.40" font-size="7.5" text-anchor="start" fill="#000"  >4 mA</text>
<line x1="339.60" y1="269.70" x2="357.90" y2="269.70" stroke="#00f" stroke-width="1.4" />
<text x="359.90" y="272.20" font-size="7.5" text-anchor="start" fill="#000"  >7 mA</text>
<line x1="339.60" y1="279.90" x2="357.90" y2="279.90" stroke="#0ff" stroke-width="1.4" />
<text x="359.90" y="282.40" font-size="7.5" text-anchor="start" fill="#000"  >10 mA</text>
<line x1="339.60" y1="289.70" x2="357.90" y2="289.70" stroke="#f0f" stroke-width="1.4" />
<text x="359.90" y="292.20" font-size="7.5" text-anchor="start" fill="#000"  >20 mA</text>
<line x1="339.60" y1="299.90" x2="357.90" y2="299.90" stroke="#ff8000" stroke-width="1.4" />
<text x="359.90" y="302.40" font-size="7.5" text-anchor="start" fill="#000"  >30 mA</text>
<text x="339.60" y="312.00" font-size="7.5" text-anchor="start" fill="#000"  >Green LD</text>
<text x="10.20" y="422.30" font-size="13.5" text-anchor="start" fill="#000"  letter-spacing="0.5">(e)</text>
<line x1="44.55" y1="434.60" x2="255.45" y2="434.60" stroke="#000" stroke-width="1.5" />
<line x1="44.55" y1="590.00" x2="255.45" y2="590.00" stroke="#000" stroke-width="1.5" />
<line x1="45.30" y1="434.60" x2="45.30" y2="510.60" stroke="#000" stroke-width="1.5" />
<line x1="45.30" y1="514.20" x2="45.30" y2="590.00" stroke="#000" stroke-width="1.5" />
<line x1="42.30" y1="512.00" x2="48.30" y2="510.00" stroke="#000" stroke-width="1.3" />
<line x1="42.30" y1="514.60" x2="48.30" y2="512.60" stroke="#000" stroke-width="1.3" />
<line x1="254.70" y1="434.60" x2="254.70" y2="510.60" stroke="#000" stroke-width="1.5" />
<line x1="254.70" y1="514.20" x2="254.70" y2="590.00" stroke="#000" stroke-width="1.5" />
<line x1="251.70" y1="512.00" x2="257.70" y2="510.00" stroke="#000" stroke-width="1.3" />
<line x1="251.70" y1="514.60" x2="257.70" y2="512.60" stroke="#000" stroke-width="1.3" />
<line x1="42.50" y1="510.50" x2="45.30" y2="510.50" stroke="#000" stroke-width="1.2" />
<text x="39.50" y="513.50" font-size="8.7" text-anchor="end" fill="#000"  >505</text>
<line x1="42.50" y1="491.52" x2="45.30" y2="491.52" stroke="#000" stroke-width="1.2" />
<text x="39.50" y="494.52" font-size="8.7" text-anchor="end" fill="#000"  >510</text>
<line x1="42.50" y1="472.55" x2="45.30" y2="472.55" stroke="#000" stroke-width="1.2" />
<text x="39.50" y="475.55" font-size="8.7" text-anchor="end" fill="#000"  >515</text>
<line x1="42.50" y1="453.57" x2="45.30" y2="453.57" stroke="#000" stroke-width="1.2" />
<text x="39.50" y="456.57" font-size="8.7" text-anchor="end" fill="#000"  >520</text>
<line x1="42.50" y1="434.60" x2="45.30" y2="434.60" stroke="#000" stroke-width="1.2" />
<text x="39.50" y="437.60" font-size="8.7" text-anchor="end" fill="#000"  >525</text>
<line x1="43.70" y1="501.01" x2="45.30" y2="501.01" stroke="#000" stroke-width="1.2" />
<line x1="43.70" y1="482.04" x2="45.30" y2="482.04" stroke="#000" stroke-width="1.2" />
<line x1="43.70" y1="463.06" x2="45.30" y2="463.06" stroke="#000" stroke-width="1.2" />
<line x1="43.70" y1="444.09" x2="45.30" y2="444.09" stroke="#000" stroke-width="1.2" />
<line x1="42.50" y1="590.00" x2="45.30" y2="590.00" stroke="#000" stroke-width="1.2" />
<text x="39.50" y="593.00" font-size="8.7" text-anchor="end" fill="#000"  >450</text>
<line x1="42.50" y1="574.75" x2="45.30" y2="574.75" stroke="#000" stroke-width="1.2" />
<text x="39.50" y="577.75" font-size="8.7" text-anchor="end" fill="#000"  >455</text>
<line x1="42.50" y1="559.50" x2="45.30" y2="559.50" stroke="#000" stroke-width="1.2" />
<text x="39.50" y="562.50" font-size="8.7" text-anchor="end" fill="#000"  >460</text>
<line x1="42.50" y1="544.25" x2="45.30" y2="544.25" stroke="#000" stroke-width="1.2" />
<text x="39.50" y="547.25" font-size="8.7" text-anchor="end" fill="#000"  >465</text>
<line x1="42.50" y1="529.00" x2="45.30" y2="529.00" stroke="#000" stroke-width="1.2" />
<text x="39.50" y="532.00" font-size="8.7" text-anchor="end" fill="#000"  >470</text>
<line x1="43.70" y1="582.38" x2="45.30" y2="582.38" stroke="#000" stroke-width="1.2" />
<line x1="43.70" y1="567.12" x2="45.30" y2="567.12" stroke="#000" stroke-width="1.2" />
<line x1="43.70" y1="551.88" x2="45.30" y2="551.88" stroke="#000" stroke-width="1.2" />
<line x1="43.70" y1="536.62" x2="45.30" y2="536.62" stroke="#000" stroke-width="1.2" />
<line x1="43.70" y1="521.38" x2="45.30" y2="521.38" stroke="#000" stroke-width="1.2" />
<line x1="45.30" y1="590.00" x2="45.30" y2="592.80" stroke="#000" stroke-width="1.2" />
<text x="45.30" y="602.60" font-size="8.7" text-anchor="middle" fill="#000"  >0</text>
<line x1="83.28" y1="590.00" x2="83.28" y2="592.80" stroke="#000" stroke-width="1.2" />
<text x="83.28" y="602.60" font-size="8.7" text-anchor="middle" fill="#000"  >10</text>
<line x1="121.26" y1="590.00" x2="121.26" y2="592.80" stroke="#000" stroke-width="1.2" />
<text x="121.26" y="602.60" font-size="8.7" text-anchor="middle" fill="#000"  >20</text>
<line x1="159.24" y1="590.00" x2="159.24" y2="592.80" stroke="#000" stroke-width="1.2" />
<text x="159.24" y="602.60" font-size="8.7" text-anchor="middle" fill="#000"  >30</text>
<line x1="197.22" y1="590.00" x2="197.22" y2="592.80" stroke="#000" stroke-width="1.2" />
<text x="197.22" y="602.60" font-size="8.7" text-anchor="middle" fill="#000"  >40</text>
<line x1="235.20" y1="590.00" x2="235.20" y2="592.80" stroke="#000" stroke-width="1.2" />
<text x="235.20" y="602.60" font-size="8.7" text-anchor="middle" fill="#000"  >50</text>
<line x1="64.29" y1="590.00" x2="64.29" y2="591.60" stroke="#000" stroke-width="1.2" />
<line x1="102.27" y1="590.00" x2="102.27" y2="591.60" stroke="#000" stroke-width="1.2" />
<line x1="140.25" y1="590.00" x2="140.25" y2="591.60" stroke="#000" stroke-width="1.2" />
<line x1="178.23" y1="590.00" x2="178.23" y2="591.60" stroke="#000" stroke-width="1.2" />
<line x1="216.21" y1="590.00" x2="216.21" y2="591.60" stroke="#000" stroke-width="1.2" />
<text x="57.8" y="619.0" font-size="12" text-anchor="start" fill="#000" letter-spacing="0.1" >Injection current density <tspan font-size="9">(</tspan><tspan font-size="10.6" letter-spacing="0.5">A/cm</tspan><tspan font-size="8" dx="1.6" dy="-5">2</tspan><tspan font-size="9" dx="0.6" dy="5">)</tspan></text>
<text x="13.80" y="512.00" font-size="12" text-anchor="middle" fill="#000"  transform="rotate(-90 13.80 512.00)" >Wavelength (nm)</text>
<polyline points="51.50,542.30 54.50,542.30 57.40,544.80 60.30,545.20 63.20,545.20 66.10,545.50 69.00,547.20 71.90,548.60 74.80,549.40 77.70,549.90 80.60,550.30 83.50,550.60 86.40,550.80 89.30,551.00 92.20,551.30 95.10,551.50 98.00,551.70 100.90,551.80 103.80,551.90 106.70,552.20 109.00,553.00 118.30,555.70 127.70,558.60 137.20,559.90 146.60,561.30 156.30,562.20 165.80,562.80 175.30,563.50 184.90,564.20 194.30,564.70 204.00,565.20 219.80,565.40 235.80,566.00 251.10,567.50" fill="none" stroke="#999" stroke-width="0.9" stroke-linejoin="round" />
<polygon points="51.50,539.01 48.59,544.31 54.41,544.31" fill="#fff" stroke="#6262ff" stroke-width="0.9"/>
<polygon points="54.50,539.01 51.59,544.31 57.41,544.31" fill="#fff" stroke="#6262ff" stroke-width="0.9"/>
<polygon points="57.40,541.51 54.48,546.81 60.31,546.81" fill="#fff" stroke="#6262ff" stroke-width="0.9"/>
<polygon points="60.30,541.91 57.38,547.21 63.21,547.21" fill="#fff" stroke="#6262ff" stroke-width="0.9"/>
<polygon points="63.20,541.91 60.29,547.21 66.12,547.21" fill="#fff" stroke="#6262ff" stroke-width="0.9"/>
<polygon points="66.10,542.21 63.18,547.51 69.02,547.51" fill="#fff" stroke="#6262ff" stroke-width="0.9"/>
<polygon points="69.00,543.91 66.08,549.21 71.92,549.21" fill="#fff" stroke="#6262ff" stroke-width="0.9"/>
<polygon points="71.90,545.31 68.98,550.61 74.82,550.61" fill="#fff" stroke="#6262ff" stroke-width="0.9"/>
<polygon points="74.80,546.11 71.88,551.41 77.72,551.41" fill="#fff" stroke="#6262ff" stroke-width="0.9"/>
<polygon points="77.70,546.61 74.78,551.91 80.62,551.91" fill="#fff" stroke="#6262ff" stroke-width="0.9"/>
<polygon points="80.60,547.01 77.68,552.31 83.52,552.31" fill="#fff" stroke="#6262ff" stroke-width="0.9"/>
<polygon points="83.50,547.31 80.58,552.61 86.42,552.61" fill="#fff" stroke="#6262ff" stroke-width="0.9"/>
<polygon points="86.40,547.51 83.48,552.81 89.32,552.81" fill="#fff" stroke="#6262ff" stroke-width="0.9"/>
<polygon points="89.30,547.71 86.38,553.01 92.22,553.01" fill="#fff" stroke="#6262ff" stroke-width="0.9"/>
<polygon points="92.20,548.01 89.28,553.31 95.12,553.31" fill="#fff" stroke="#6262ff" stroke-width="0.9"/>
<polygon points="95.10,548.21 92.18,553.51 98.02,553.51" fill="#fff" stroke="#6262ff" stroke-width="0.9"/>
<polygon points="98.00,548.41 95.08,553.71 100.92,553.71" fill="#fff" stroke="#6262ff" stroke-width="0.9"/>
<polygon points="100.90,548.51 97.98,553.81 103.82,553.81" fill="#fff" stroke="#6262ff" stroke-width="0.9"/>
<polygon points="103.80,548.61 100.88,553.91 106.72,553.91" fill="#fff" stroke="#6262ff" stroke-width="0.9"/>
<polygon points="106.70,548.91 103.78,554.21 109.62,554.21" fill="#fff" stroke="#6262ff" stroke-width="0.9"/>
<polygon points="109.00,549.71 106.08,555.01 111.92,555.01" fill="#fff" stroke="#6262ff" stroke-width="0.9"/>
<polygon points="118.30,552.41 115.38,557.71 121.22,557.71" fill="#fff" stroke="#6262ff" stroke-width="0.9"/>
<polygon points="127.70,555.31 124.78,560.61 130.62,560.61" fill="#fff" stroke="#6262ff" stroke-width="0.9"/>
<polygon points="137.20,556.61 134.28,561.91 140.11,561.91" fill="#fff" stroke="#6262ff" stroke-width="0.9"/>
<polygon points="146.60,558.01 143.69,563.31 149.51,563.31" fill="#fff" stroke="#6262ff" stroke-width="0.9"/>
<polygon points="156.30,558.91 153.39,564.21 159.22,564.21" fill="#fff" stroke="#6262ff" stroke-width="0.9"/>
<polygon points="165.80,559.51 162.89,564.81 168.72,564.81" fill="#fff" stroke="#6262ff" stroke-width="0.9"/>
<polygon points="175.30,560.21 172.39,565.51 178.22,565.51" fill="#fff" stroke="#6262ff" stroke-width="0.9"/>
<polygon points="184.90,560.91 181.99,566.21 187.81,566.21" fill="#fff" stroke="#6262ff" stroke-width="0.9"/>
<polygon points="194.30,561.41 191.39,566.71 197.22,566.71" fill="#fff" stroke="#6262ff" stroke-width="0.9"/>
<polygon points="204.00,561.91 201.09,567.21 206.91,567.21" fill="#fff" stroke="#6262ff" stroke-width="0.9"/>
<polygon points="219.80,562.11 216.89,567.41 222.72,567.41" fill="#fff" stroke="#6262ff" stroke-width="0.9"/>
<polygon points="235.80,562.71 232.89,568.01 238.72,568.01" fill="#fff" stroke="#6262ff" stroke-width="0.9"/>
<polygon points="251.10,564.21 248.19,569.51 254.01,569.51" fill="#fff" stroke="#6262ff" stroke-width="0.9"/>
<polyline points="51.50,452.20 54.50,453.40 57.40,455.11 60.30,457.20 63.20,459.48 66.10,461.75 69.00,463.85 71.90,465.38 74.80,466.40 77.70,467.32 80.60,468.24 83.50,469.43 86.40,470.63 89.30,471.48 92.20,472.40 95.10,473.43 98.00,474.19 100.90,474.95 103.80,475.65 106.70,476.19 109.00,476.60 118.30,477.70 127.70,478.50 137.20,479.90 146.60,481.30 156.30,482.40 165.80,483.60 175.30,484.70 184.90,485.50 194.30,486.50 204.00,487.60 219.80,488.00 235.80,488.30 251.10,489.30" fill="none" stroke="#33ee33" stroke-width="1.0" stroke-linejoin="round" />
<polygon points="48.59,450.19 54.41,450.19 51.50,455.49" fill="#fff" stroke="#22ee22" stroke-width="0.9"/>
<polygon points="51.59,451.39 57.41,451.39 54.50,456.69" fill="#fff" stroke="#22ee22" stroke-width="0.9"/>
<polygon points="54.48,453.10 60.31,453.10 57.40,458.40" fill="#fff" stroke="#22ee22" stroke-width="0.9"/>
<polygon points="57.38,455.19 63.21,455.19 60.30,460.49" fill="#fff" stroke="#22ee22" stroke-width="0.9"/>
<polygon points="60.29,457.46 66.12,457.46 63.20,462.76" fill="#fff" stroke="#22ee22" stroke-width="0.9"/>
<polygon points="63.18,459.74 69.02,459.74 66.10,465.04" fill="#fff" stroke="#22ee22" stroke-width="0.9"/>
<polygon points="66.08,461.84 71.92,461.84 69.00,467.14" fill="#fff" stroke="#22ee22" stroke-width="0.9"/>
<polygon points="68.98,463.36 74.82,463.36 71.90,468.66" fill="#fff" stroke="#22ee22" stroke-width="0.9"/>
<polygon points="71.88,464.38 77.72,464.38 74.80,469.68" fill="#fff" stroke="#22ee22" stroke-width="0.9"/>
<polygon points="74.78,465.31 80.62,465.31 77.70,470.61" fill="#fff" stroke="#22ee22" stroke-width="0.9"/>
<polygon points="77.68,466.23 83.52,466.23 80.60,471.53" fill="#fff" stroke="#22ee22" stroke-width="0.9"/>
<polygon points="80.58,467.41 86.42,467.41 83.50,472.71" fill="#fff" stroke="#22ee22" stroke-width="0.9"/>
<polygon points="83.48,468.62 89.32,468.62 86.40,473.92" fill="#fff" stroke="#22ee22" stroke-width="0.9"/>
<polygon points="86.38,469.46 92.22,469.46 89.30,474.76" fill="#fff" stroke="#22ee22" stroke-width="0.9"/>
<polygon points="89.28,470.39 95.12,470.39 92.20,475.69" fill="#fff" stroke="#22ee22" stroke-width="0.9"/>
<polygon points="92.18,471.41 98.02,471.41 95.10,476.71" fill="#fff" stroke="#22ee22" stroke-width="0.9"/>
<polygon points="95.08,472.18 100.92,472.18 98.00,477.48" fill="#fff" stroke="#22ee22" stroke-width="0.9"/>
<polygon points="97.98,472.93 103.82,472.93 100.90,478.23" fill="#fff" stroke="#22ee22" stroke-width="0.9"/>
<polygon points="100.88,473.64 106.72,473.64 103.80,478.94" fill="#fff" stroke="#22ee22" stroke-width="0.9"/>
<polygon points="103.78,474.17 109.62,474.17 106.70,479.47" fill="#fff" stroke="#22ee22" stroke-width="0.9"/>
<polygon points="106.08,474.59 111.92,474.59 109.00,479.89" fill="#fff" stroke="#22ee22" stroke-width="0.9"/>
<polygon points="115.38,475.69 121.22,475.69 118.30,480.99" fill="#fff" stroke="#22ee22" stroke-width="0.9"/>
<polygon points="124.78,476.49 130.62,476.49 127.70,481.79" fill="#fff" stroke="#22ee22" stroke-width="0.9"/>
<polygon points="134.28,477.89 140.11,477.89 137.20,483.19" fill="#fff" stroke="#22ee22" stroke-width="0.9"/>
<polygon points="143.69,479.29 149.51,479.29 146.60,484.59" fill="#fff" stroke="#22ee22" stroke-width="0.9"/>
<polygon points="153.39,480.39 159.22,480.39 156.30,485.69" fill="#fff" stroke="#22ee22" stroke-width="0.9"/>
<polygon points="162.89,481.59 168.72,481.59 165.80,486.89" fill="#fff" stroke="#22ee22" stroke-width="0.9"/>
<polygon points="172.39,482.69 178.22,482.69 175.30,487.99" fill="#fff" stroke="#22ee22" stroke-width="0.9"/>
<polygon points="181.99,483.49 187.81,483.49 184.90,488.79" fill="#fff" stroke="#22ee22" stroke-width="0.9"/>
<polygon points="191.39,484.49 197.22,484.49 194.30,489.79" fill="#fff" stroke="#22ee22" stroke-width="0.9"/>
<polygon points="201.09,485.59 206.91,485.59 204.00,490.89" fill="#fff" stroke="#22ee22" stroke-width="0.9"/>
<polygon points="216.89,485.99 222.72,485.99 219.80,491.29" fill="#fff" stroke="#22ee22" stroke-width="0.9"/>
<polygon points="232.89,486.29 238.72,486.29 235.80,491.59" fill="#fff" stroke="#22ee22" stroke-width="0.9"/>
<polygon points="248.19,487.29 254.01,487.29 251.10,492.59" fill="#fff" stroke="#22ee22" stroke-width="0.9"/>
<polyline points="64.40,557.00 84.00,562.40 142.20,566.00 180.60,569.00 238.40,572.60" fill="none" stroke="#0000ff" stroke-width="1.8" stroke-linejoin="round" />
<circle cx="64.40" cy="557.00" r="2.90" fill="#0000ff"/>
<circle cx="63.53" cy="555.99" r="0.93" fill="#aab" opacity="0.8"/>
<circle cx="84.00" cy="562.40" r="2.90" fill="#0000ff"/>
<circle cx="83.13" cy="561.38" r="0.93" fill="#aab" opacity="0.8"/>
<circle cx="142.20" cy="566.00" r="2.90" fill="#0000ff"/>
<circle cx="141.33" cy="564.99" r="0.93" fill="#aab" opacity="0.8"/>
<circle cx="180.60" cy="569.00" r="2.90" fill="#0000ff"/>
<circle cx="179.73" cy="567.99" r="0.93" fill="#aab" opacity="0.8"/>
<circle cx="238.40" cy="572.60" r="2.90" fill="#0000ff"/>
<circle cx="237.53" cy="571.59" r="0.93" fill="#aab" opacity="0.8"/>
<polyline points="64.50,460.70 84.10,466.30 142.40,475.80 180.60,481.60 238.40,491.30" fill="none" stroke="#00ee00" stroke-width="2.0" stroke-linejoin="round" />
<circle cx="64.50" cy="460.70" r="3.00" fill="#00ee00"/>
<circle cx="84.10" cy="466.30" r="3.00" fill="#00ee00"/>
<circle cx="142.40" cy="475.80" r="3.00" fill="#00ee00"/>
<circle cx="180.60" cy="481.60" r="3.00" fill="#00ee00"/>
<circle cx="238.40" cy="491.30" r="3.00" fill="#00ee00"/>
<line x1="187.50" y1="441.40" x2="204.70" y2="441.40" stroke="#999" stroke-width="1.0" />
<polygon points="196.20,438.51 193.28,443.81 199.11,443.81" fill="#fff" stroke="#6262ff" stroke-width="0.9"/>
<text x="207.00" y="443.90" font-size="7.7" text-anchor="start" fill="#000"  >Blue LD</text>
<line x1="187.50" y1="451.50" x2="204.70" y2="451.50" stroke="#0000ff" stroke-width="1.8" />
<circle cx="196.20" cy="451.50" r="2.90" fill="#0000ff"/>
<circle cx="195.33" cy="450.49" r="0.93" fill="#aab" opacity="0.8"/>
<text x="207.00" y="453.80" font-size="7.7" text-anchor="start" fill="#000"  >Blue LED</text>
<line x1="187.50" y1="461.70" x2="204.70" y2="461.70" stroke="#00ee00" stroke-width="1.8" />
<polygon points="193.28,459.69 199.11,459.69 196.20,464.99" fill="#fff" stroke="#22ee22" stroke-width="0.9"/>
<text x="207.00" y="463.90" font-size="7.7" text-anchor="start" fill="#000"  >Green LD</text>
<line x1="187.50" y1="471.90" x2="204.70" y2="471.90" stroke="#00ee00" stroke-width="1.8" />
<circle cx="196.20" cy="471.90" r="3.00" fill="#00ee00"/>
<text x="207.00" y="474.10" font-size="7.7" text-anchor="start" fill="#000"  >Green LED</text>
<text x="296.50" y="424.00" font-size="13.5" text-anchor="start" fill="#000"  letter-spacing="0.5">(f)</text>
<rect x="331.00" y="434.50" width="209.00" height="156.50" fill="none" stroke="#000" stroke-width="1.5"/>
<line x1="331.00" y1="591.00" x2="331.00" y2="593.80" stroke="#000" stroke-width="1.2" />
<text x="331.00" y="603.60" font-size="8.7" text-anchor="middle" fill="#000"  >0</text>
<line x1="367.03" y1="591.00" x2="367.03" y2="593.80" stroke="#000" stroke-width="1.2" />
<text x="367.03" y="603.60" font-size="8.7" text-anchor="middle" fill="#000"  >10</text>
<line x1="403.07" y1="591.00" x2="403.07" y2="593.80" stroke="#000" stroke-width="1.2" />
<text x="403.07" y="603.60" font-size="8.7" text-anchor="middle" fill="#000"  >20</text>
<line x1="439.10" y1="591.00" x2="439.10" y2="593.80" stroke="#000" stroke-width="1.2" />
<text x="439.10" y="603.60" font-size="8.7" text-anchor="middle" fill="#000"  >30</text>
<line x1="475.14" y1="591.00" x2="475.14" y2="593.80" stroke="#000" stroke-width="1.2" />
<text x="475.14" y="603.60" font-size="8.7" text-anchor="middle" fill="#000"  >40</text>
<line x1="511.17" y1="591.00" x2="511.17" y2="593.80" stroke="#000" stroke-width="1.2" />
<text x="511.17" y="603.60" font-size="8.7" text-anchor="middle" fill="#000"  >50</text>
<line x1="349.02" y1="591.00" x2="349.02" y2="592.60" stroke="#000" stroke-width="1.2" />
<line x1="385.05" y1="591.00" x2="385.05" y2="592.60" stroke="#000" stroke-width="1.2" />
<line x1="421.09" y1="591.00" x2="421.09" y2="592.60" stroke="#000" stroke-width="1.2" />
<line x1="457.12" y1="591.00" x2="457.12" y2="592.60" stroke="#000" stroke-width="1.2" />
<line x1="493.16" y1="591.00" x2="493.16" y2="592.60" stroke="#000" stroke-width="1.2" />
<line x1="529.19" y1="591.00" x2="529.19" y2="592.60" stroke="#000" stroke-width="1.2" />
<line x1="328.20" y1="575.35" x2="331.00" y2="575.35" stroke="#000" stroke-width="1.2" />
<text x="325.60" y="578.45" font-size="8.7" text-anchor="end" fill="#000"  >20</text>
<line x1="328.20" y1="536.23" x2="331.00" y2="536.23" stroke="#000" stroke-width="1.2" />
<text x="325.60" y="539.33" font-size="8.7" text-anchor="end" fill="#000"  >25</text>
<line x1="328.20" y1="497.10" x2="331.00" y2="497.10" stroke="#000" stroke-width="1.2" />
<text x="325.60" y="500.20" font-size="8.7" text-anchor="end" fill="#000"  >30</text>
<line x1="328.20" y1="457.98" x2="331.00" y2="457.98" stroke="#000" stroke-width="1.2" />
<text x="325.60" y="461.08" font-size="8.7" text-anchor="end" fill="#000"  >35</text>
<line x1="329.40" y1="555.79" x2="331.00" y2="555.79" stroke="#000" stroke-width="1.2" />
<line x1="329.40" y1="516.66" x2="331.00" y2="516.66" stroke="#000" stroke-width="1.2" />
<line x1="329.40" y1="477.54" x2="331.00" y2="477.54" stroke="#000" stroke-width="1.2" />
<line x1="329.40" y1="438.41" x2="331.00" y2="438.41" stroke="#000" stroke-width="1.2" />
<text x="434.8" y="619.5" font-size="12" text-anchor="middle" fill="#000" >Injection current density (A/cm<tspan font-size="8" dy="-4.5">2</tspan><tspan dy="4.5">)</tspan></text>
<text x="312.40" y="511.00" font-size="12.5" text-anchor="middle" fill="#000"  transform="rotate(-90 312.40 511.00)" >FWHM (nm)</text>
<polyline points="346.00,571.80 360.40,570.60 389.70,568.60 419.00,567.10 477.70,564.70 535.50,562.80" fill="none" stroke="#2222ff" stroke-width="1.5" stroke-linejoin="round" />
<polygon points="346.00,567.89 342.54,574.19 349.46,574.19" fill="#fff" stroke="#3333ff" stroke-width="1.0"/>
<polygon points="360.40,566.69 356.94,572.99 363.86,572.99" fill="#fff" stroke="#3333ff" stroke-width="1.0"/>
<polygon points="389.70,564.69 386.24,570.99 393.16,570.99" fill="#fff" stroke="#3333ff" stroke-width="1.0"/>
<polygon points="419.00,563.19 415.54,569.49 422.46,569.49" fill="#fff" stroke="#3333ff" stroke-width="1.0"/>
<polygon points="477.70,560.79 474.24,567.09 481.16,567.09" fill="#fff" stroke="#3333ff" stroke-width="1.0"/>
<polygon points="535.50,558.89 532.03,565.19 538.97,565.19" fill="#fff" stroke="#3333ff" stroke-width="1.0"/>
<polyline points="349.50,565.90 368.20,551.80 423.00,538.50 459.30,528.40 514.00,523.70" fill="none" stroke="#0000ff" stroke-width="1.8" stroke-linejoin="round" />
<circle cx="349.50" cy="565.90" r="3.20" fill="#0000ff"/>
<circle cx="348.54" cy="564.78" r="1.02" fill="#aab" opacity="0.8"/>
<circle cx="368.20" cy="551.80" r="3.20" fill="#0000ff"/>
<circle cx="367.24" cy="550.68" r="1.02" fill="#aab" opacity="0.8"/>
<circle cx="423.00" cy="538.50" r="3.20" fill="#0000ff"/>
<circle cx="422.04" cy="537.38" r="1.02" fill="#aab" opacity="0.8"/>
<circle cx="459.30" cy="528.40" r="3.20" fill="#0000ff"/>
<circle cx="458.34" cy="527.28" r="1.02" fill="#aab" opacity="0.8"/>
<circle cx="514.00" cy="523.70" r="3.20" fill="#0000ff"/>
<circle cx="513.04" cy="522.58" r="1.02" fill="#aab" opacity="0.8"/>
<polyline points="346.00,485.90 360.40,480.80 389.70,478.90 419.00,475.70 477.70,473.00 535.50,470.30" fill="none" stroke="#22ee22" stroke-width="1.5" stroke-linejoin="round" />
<polygon points="342.54,483.51 349.46,483.51 346.00,489.81" fill="#fff" stroke="#22ee22" stroke-width="1.0"/>
<polygon points="356.94,478.41 363.86,478.41 360.40,484.71" fill="#fff" stroke="#22ee22" stroke-width="1.0"/>
<polygon points="386.24,476.51 393.16,476.51 389.70,482.81" fill="#fff" stroke="#22ee22" stroke-width="1.0"/>
<polygon points="415.54,473.31 422.46,473.31 419.00,479.61" fill="#fff" stroke="#22ee22" stroke-width="1.0"/>
<polygon points="474.24,470.61 481.16,470.61 477.70,476.91" fill="#fff" stroke="#22ee22" stroke-width="1.0"/>
<polygon points="532.03,467.91 538.97,467.91 535.50,474.21" fill="#fff" stroke="#22ee22" stroke-width="1.0"/>
<polyline points="349.50,492.50 368.20,480.80 423.00,468.30 459.30,461.30 514.00,443.70" fill="none" stroke="#00ee00" stroke-width="2.0" stroke-linejoin="round" />
<circle cx="349.50" cy="492.50" r="3.20" fill="#00ee00"/>
<circle cx="368.20" cy="480.80" r="3.20" fill="#00ee00"/>
<circle cx="423.00" cy="468.30" r="3.20" fill="#00ee00"/>
<circle cx="459.30" cy="461.30" r="3.20" fill="#00ee00"/>
<circle cx="514.00" cy="443.70" r="3.20" fill="#00ee00"/>
<line x1="335.50" y1="440.40" x2="353.90" y2="440.40" stroke="#2222ff" stroke-width="1.6" />
<polygon points="344.40,436.79 340.94,443.09 347.86,443.09" fill="#fff" stroke="#3333ff" stroke-width="1.0"/>
<text x="354.10" y="442.80" font-size="7.7" text-anchor="start" fill="#000"  >Blue LD</text>
<line x1="335.50" y1="450.50" x2="353.90" y2="450.50" stroke="#0000ff" stroke-width="1.6" />
<circle cx="344.40" cy="450.50" r="3.20" fill="#0000ff"/>
<circle cx="343.44" cy="449.38" r="1.02" fill="#aab" opacity="0.8"/>
<text x="354.10" y="452.80" font-size="7.7" text-anchor="start" fill="#000"  >Blue LED</text>
<line x1="335.50" y1="460.70" x2="353.90" y2="460.70" stroke="#22ee22" stroke-width="1.6" />
<polygon points="340.94,458.31 347.86,458.31 344.40,464.61" fill="#fff" stroke="#22ee22" stroke-width="1.0"/>
<text x="354.10" y="462.90" font-size="7.7" text-anchor="start" fill="#000"  >Green LD</text>
<line x1="335.50" y1="470.90" x2="353.90" y2="470.90" stroke="#00ee00" stroke-width="1.6" />
<circle cx="344.40" cy="470.90" r="3.20" fill="#00ee00"/>
<text x="354.10" y="472.80" font-size="7.7" text-anchor="start" fill="#000"  >Green LED</text>
<defs><linearGradient id="cg1" x1="0" y1="0" x2="1" y2="0"><stop offset="0" stop-color="#12005a"/><stop offset="0.12" stop-color="#3a10e0"/><stop offset="0.45" stop-color="#8a28ff"/><stop offset="0.8" stop-color="#e040ff"/><stop offset="1" stop-color="#ff58ff"/></linearGradient><linearGradient id="cg2" x1="0" y1="0" x2="0" y2="1"><stop offset="0" stop-color="#5a30ff"/><stop offset="0.4" stop-color="#2a18ff"/><stop offset="1" stop-color="#1a10d0"/></linearGradient><linearGradient id="dg1" x1="0" y1="0" x2="1" y2="0"><stop offset="0" stop-color="#1d8fa0"/><stop offset="1" stop-color="#1040d0"/></linearGradient><linearGradient id="dg2" x1="0" y1="0" x2="1" y2="0"><stop offset="0" stop-color="#1a30b0"/><stop offset="1" stop-color="#1238d8"/></linearGradient><radialGradient id="dspot" cx="0.5" cy="0.5" r="0.5"><stop offset="0" stop-color="#c0ffd0"/><stop offset="0.5" stop-color="#40d080" stop-opacity="0.7"/><stop offset="1" stop-color="#1020e0" stop-opacity="0"/></radialGradient></defs>
<defs><filter id="soft" x="-5%" y="-5%" width="110%" height="110%"><feGaussianBlur stdDeviation="0.45"/></filter></defs>
<g filter="url(#soft)">
<defs><linearGradient id="cgL" gradientUnits="userSpaceOnUse" x1="174.6" y1="0" x2="206.4" y2="0"><stop offset="0" stop-color="#00001a"/><stop offset="0.13" stop-color="#000022"/><stop offset="0.15" stop-color="#2410e8"/><stop offset="0.22" stop-color="#5014f0"/><stop offset="0.4" stop-color="#8a1cf4"/><stop offset="0.62" stop-color="#c426f6"/><stop offset="0.82" stop-color="#ec30fa"/><stop offset="1" stop-color="#ff40ff"/></linearGradient><linearGradient id="cgB" x1="0" y1="0" x2="0" y2="1"><stop offset="0" stop-color="#5a2cff"/><stop offset="0.3" stop-color="#3418ff"/><stop offset="1" stop-color="#1e0ee0"/></linearGradient><linearGradient id="cgM" x1="0" y1="0" x2="1" y2="0"><stop offset="0" stop-color="#e83cff"/><stop offset="1" stop-color="#b02cff"/></linearGradient></defs>
<rect x="174.60" y="238.10" width="31.80" height="38.90" fill="url(#cgL)" />
<polygon points="181.5,238.1 206.4,238.1 206.4,251 181.5,240" fill="#ff48ff" opacity="0.35"/>
<polygon points="181.5,239.6 206.4,251.2 206.4,254.2 181.5,243.4" fill="#3010c8" opacity="0.8"/>
<rect x="206.40" y="238.10" width="6.20" height="38.90" fill="#03000f" />
<rect x="212.60" y="238.10" width="2.80" height="38.90" fill="#e634ff" />
<rect x="215.40" y="238.10" width="6.80" height="38.90" fill="#03000f" />
<rect x="222.20" y="238.10" width="9.20" height="38.90" fill="url(#cgM)" />
<rect x="231.40" y="238.10" width="5.20" height="38.90" fill="#03000f" />
<rect x="236.60" y="238.10" width="2.40" height="38.90" fill="#c444ff" />
<rect x="239.00" y="238.10" width="8.20" height="38.90" fill="#03000f" />
<polygon points="221.5,255.5 231.4,249.5 231.4,252.5 221.5,258" fill="#2a14e8" opacity="0.8"/>
<polygon points="231.4,249.5 243,245.5 243,249 231.4,252.5" fill="#1a0c90" opacity="0.5"/>
<rect x="174.60" y="277.00" width="72.60" height="9.20" fill="url(#cgB)" />
<ellipse cx="214" cy="277.6" rx="12" ry="1.6" fill="#b040ff" opacity="0.6"/>
</g>
<defs><linearGradient id="dgT" x1="0" y1="0" x2="1" y2="0"><stop offset="0" stop-color="#10a070"/><stop offset="0.3" stop-color="#1070b0"/><stop offset="1" stop-color="#1040d0"/></linearGradient><linearGradient id="dgB" x1="0" y1="0" x2="0" y2="1"><stop offset="0" stop-color="#1430e8"/><stop offset="0.5" stop-color="#1020d8"/><stop offset="1" stop-color="#0810a0"/></linearGradient><linearGradient id="dgL" x1="0" y1="0" x2="1" y2="0"><stop offset="0" stop-color="#000830"/><stop offset="0.2" stop-color="#0a2ab8"/><stop offset="0.7" stop-color="#1232c8"/><stop offset="1" stop-color="#0a22a0"/></linearGradient><linearGradient id="dgG" x1="0" y1="0" x2="1" y2="0"><stop offset="0" stop-color="#1aa848"/><stop offset="0.4" stop-color="#2cc458"/><stop offset="1" stop-color="#20b04c"/></linearGradient></defs>
<g filter="url(#soft)">
<rect x="463.00" y="237.30" width="6.00" height="40.40" fill="url(#dgL)" />
<rect x="469.00" y="237.30" width="6.50" height="40.40" fill="#020418" />
<rect x="475.50" y="237.30" width="3.00" height="40.40" fill="#1242e0" />
<rect x="478.50" y="237.30" width="7.20" height="40.40" fill="#020418" />
<rect x="485.70" y="237.30" width="8.00" height="40.40" fill="url(#dgG)" />
<polygon points="479.9,249.8 486.5,253.2 493.7,256.3 493.7,258.3 486.5,255.5 479.9,252" fill="#1430c8" opacity="0.85"/>
<rect x="493.70" y="237.30" width="7.20" height="40.40" fill="#020418" />
<rect x="500.90" y="237.30" width="2.20" height="40.40" fill="#10a878" />
<rect x="503.10" y="237.30" width="7.60" height="40.40" fill="#020418" />
<rect x="510.70" y="237.30" width="8.40" height="40.40" fill="url(#dgT)" />
<polygon points="510.4,256.5 519.1,251 527,245.2 527,247.8 519.1,253.6 510.4,259" fill="#1440d8" opacity="0.85"/>
<rect x="519.10" y="237.30" width="7.30" height="40.40" fill="#020418" />
<rect x="526.40" y="237.30" width="2.10" height="40.40" fill="#1236c8" />
<rect x="528.50" y="237.30" width="8.10" height="40.40" fill="#020418" />
<rect x="463.00" y="277.70" width="73.60" height="8.70" fill="url(#dgB)" />
<ellipse cx="494" cy="279" rx="13" ry="2.2" fill="url(#dspot)"/>
</g>
</svg>
</body></html>
